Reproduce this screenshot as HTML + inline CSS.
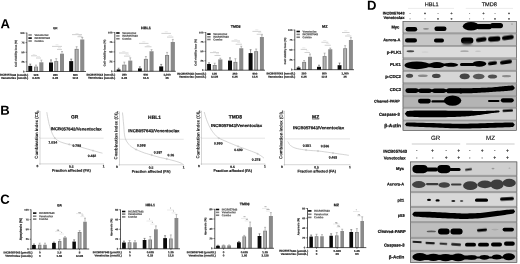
<!DOCTYPE html>
<html><head><meta charset="utf-8"><title>Figure</title>
<style>html,body{margin:0;padding:0;background:#fff;}svg{display:block;text-rendering:geometricPrecision;font-family:'Liberation Sans', sans-serif;}</style>
</head><body>
<svg width="520" height="264" viewBox="0 0 520 264">
<defs>
<filter id="b1" x="-20%" y="-50%" width="140%" height="200%"><feGaussianBlur stdDeviation="0.55"/></filter>
<filter id="b2" x="-20%" y="-50%" width="140%" height="200%"><feGaussianBlur stdDeviation="0.9"/></filter>
<filter id="b3" x="-20%" y="-50%" width="140%" height="200%"><feGaussianBlur stdDeviation="0.7"/></filter>
<filter id="bt" x="-5%" y="-5%" width="110%" height="110%"><feGaussianBlur stdDeviation="0.25"/></filter>
</defs>
<rect width="520" height="264" fill="#fff"/>
<text x="0.6" y="28.3" font-size="13.1" font-weight="bold" text-anchor="start" fill="#000" transform="rotate(0.05 0.6 28.3)">A</text>
<text x="0.25" y="114.8" font-size="13.1" font-weight="bold" text-anchor="start" fill="#000" transform="rotate(0.05 0.25 114.8)">B</text>
<text x="0.15" y="203.8" font-size="13.1" font-weight="bold" text-anchor="start" fill="#000" transform="rotate(0.05 0.15 203.8)">C</text>
<text x="367.05" y="9.85" font-size="13.1" font-weight="bold" text-anchor="start" fill="#000" transform="rotate(0.05 367.05 9.85)">D</text>
<g>
<line x1="30.25" y1="65.9" x2="30.25" y2="64.10000000000001" stroke="#2a2a2a" stroke-width="0.5"/>
<line x1="29.25" y1="64.10000000000001" x2="31.25" y2="64.10000000000001" stroke="#2a2a2a" stroke-width="0.45"/>
<rect x="28.3" y="65.9" width="3.900000000000002" height="5.599999999999994" fill="#0a0a0a"/>
<line x1="36.0" y1="66.6" x2="36.0" y2="65.1" stroke="#7a7a7a" stroke-width="0.5"/>
<line x1="35.0" y1="65.1" x2="37.0" y2="65.1" stroke="#7a7a7a" stroke-width="0.45"/>
<rect x="34" y="66.6" width="4" height="4.900000000000006" fill="#7e7e7e"/>
<rect x="35.0" y="67.3" width="2.0" height="4.2000000000000055" fill="#b2b2b2"/>
<line x1="41.349999999999994" y1="62.3" x2="41.349999999999994" y2="60.099999999999994" stroke="#7a7a7a" stroke-width="0.5"/>
<line x1="40.349999999999994" y1="60.099999999999994" x2="42.349999999999994" y2="60.099999999999994" stroke="#7a7a7a" stroke-width="0.45"/>
<rect x="39.3" y="62.3" width="4.100000000000001" height="9.200000000000003" fill="#8a8a8a"/>
<line x1="51.0" y1="62.5" x2="51.0" y2="59.9" stroke="#2a2a2a" stroke-width="0.5"/>
<line x1="50.0" y1="59.9" x2="52.0" y2="59.9" stroke="#2a2a2a" stroke-width="0.45"/>
<rect x="49" y="62.5" width="4" height="9.0" fill="#0a0a0a"/>
<line x1="56.225" y1="61.1" x2="56.225" y2="58.7" stroke="#7a7a7a" stroke-width="0.5"/>
<line x1="55.225" y1="58.7" x2="57.225" y2="58.7" stroke="#7a7a7a" stroke-width="0.45"/>
<rect x="54.25" y="61.1" width="3.950000000000003" height="10.399999999999999" fill="#7e7e7e"/>
<rect x="55.25" y="61.800000000000004" width="1.9500000000000028" height="9.7" fill="#b2b2b2"/>
<line x1="62.0" y1="53.7" x2="62.0" y2="51.5" stroke="#7a7a7a" stroke-width="0.5"/>
<line x1="61.0" y1="51.5" x2="63.0" y2="51.5" stroke="#7a7a7a" stroke-width="0.45"/>
<rect x="60" y="53.7" width="4" height="17.799999999999997" fill="#8a8a8a"/>
<line x1="71.2" y1="61.1" x2="71.2" y2="59.1" stroke="#2a2a2a" stroke-width="0.5"/>
<line x1="70.2" y1="59.1" x2="72.2" y2="59.1" stroke="#2a2a2a" stroke-width="0.45"/>
<rect x="69.2" y="61.1" width="4.0" height="10.399999999999999" fill="#0a0a0a"/>
<line x1="76.65" y1="48.9" x2="76.65" y2="46.699999999999996" stroke="#7a7a7a" stroke-width="0.5"/>
<line x1="75.65" y1="46.699999999999996" x2="77.65" y2="46.699999999999996" stroke="#7a7a7a" stroke-width="0.45"/>
<rect x="74.6" y="48.9" width="4.1000000000000085" height="22.6" fill="#7e7e7e"/>
<rect x="75.6" y="49.6" width="2.1000000000000085" height="21.900000000000002" fill="#b2b2b2"/>
<line x1="82.25" y1="39.5" x2="82.25" y2="37.5" stroke="#7a7a7a" stroke-width="0.5"/>
<line x1="81.25" y1="37.5" x2="83.25" y2="37.5" stroke="#7a7a7a" stroke-width="0.45"/>
<rect x="80.2" y="39.5" width="4.099999999999994" height="32.0" fill="#8a8a8a"/>
<line x1="26.9" y1="32.7" x2="26.9" y2="71.8" stroke="#111" stroke-width="0.7"/>
<line x1="26.599999999999998" y1="71.5" x2="86" y2="71.5" stroke="#111" stroke-width="0.7"/>
<line x1="25.5" y1="71.5" x2="26.9" y2="71.5" stroke="#111" stroke-width="0.5"/>
<text x="24.5" y="72.4" font-size="2.6" font-weight="bold" text-anchor="end" fill="#222" transform="rotate(0.05 24.5 72.4)" stroke="#222" stroke-width="0.156">0</text>
<line x1="25.5" y1="61.875" x2="26.9" y2="61.875" stroke="#111" stroke-width="0.5"/>
<text x="24.5" y="62.775" font-size="2.6" font-weight="bold" text-anchor="end" fill="#222" transform="rotate(0.05 24.5 62.775)" stroke="#222" stroke-width="0.156">25</text>
<line x1="25.5" y1="52.25" x2="26.9" y2="52.25" stroke="#111" stroke-width="0.5"/>
<text x="24.5" y="53.15" font-size="2.6" font-weight="bold" text-anchor="end" fill="#222" transform="rotate(0.05 24.5 53.15)" stroke="#222" stroke-width="0.156">50</text>
<line x1="25.5" y1="42.625" x2="26.9" y2="42.625" stroke="#111" stroke-width="0.5"/>
<text x="24.5" y="43.525" font-size="2.6" font-weight="bold" text-anchor="end" fill="#222" transform="rotate(0.05 24.5 43.525)" stroke="#222" stroke-width="0.156">75</text>
<line x1="25.5" y1="33.0" x2="26.9" y2="33.0" stroke="#111" stroke-width="0.5"/>
<text x="24.5" y="33.9" font-size="2.6" font-weight="bold" text-anchor="end" fill="#222" transform="rotate(0.05 24.5 33.9)" stroke="#222" stroke-width="0.156">100</text>
<text x="16.8" y="53.25" font-size="2.7" font-weight="bold" text-anchor="middle" fill="#444" transform="rotate(-89.95 16.8 53.25)" stroke="#444" stroke-width="0.162">Cell viability loss (%)</text>
<text x="55.2" y="29.3" font-size="3.0" font-weight="bold" text-anchor="middle" fill="#222" transform="rotate(0.05 55.2 29.3)" stroke="#222" stroke-width="0.180">GR</text>
<rect x="28.4" y="34.2" width="3.4" height="1.6" fill="#808080"/>
<text x="34.4" y="35.95" font-size="2.7" font-weight="bold" text-anchor="start" fill="#555" transform="rotate(0.05 34.4 35.95)" stroke="#555" stroke-width="0.162">Venetoclax</text>
<rect x="28.4" y="37.300000000000004" width="3.4" height="1.6" fill="#0a0a0a"/>
<text x="34.4" y="39.050000000000004" font-size="2.7" font-weight="bold" text-anchor="start" fill="#555" transform="rotate(0.05 34.4 39.050000000000004)" stroke="#555" stroke-width="0.162">INCB057643</text>
<rect x="28.4" y="40.2" width="3.4" height="1.6" fill="#7a7a7a"/>
<text x="34.4" y="41.95" font-size="2.7" font-weight="bold" text-anchor="start" fill="#555" transform="rotate(0.05 34.4 41.95)" stroke="#555" stroke-width="0.162">Combo</text>
<text x="28.3" y="75.9" font-size="2.9" font-weight="bold" text-anchor="end" fill="#222" transform="rotate(0.05 28.3 75.9)" stroke="#222" stroke-width="0.174">INCB057643 (nmol/L)</text>
<text x="28.3" y="79.0" font-size="2.9" font-weight="bold" text-anchor="end" fill="#222" transform="rotate(0.05 28.3 79.0)" stroke="#222" stroke-width="0.174">Venetoclax (nmol/L)</text>
<text x="35.9" y="75.9" font-size="2.9" font-weight="bold" text-anchor="middle" fill="#222" transform="rotate(0.05 35.9 75.9)" stroke="#222" stroke-width="0.174">125</text>
<text x="35.9" y="79.0" font-size="2.9" font-weight="bold" text-anchor="middle" fill="#222" transform="rotate(0.05 35.9 79.0)" stroke="#222" stroke-width="0.174">3.125</text>
<text x="55.3" y="75.9" font-size="2.9" font-weight="bold" text-anchor="middle" fill="#222" transform="rotate(0.05 55.3 75.9)" stroke="#222" stroke-width="0.174">250</text>
<text x="55.3" y="79.0" font-size="2.9" font-weight="bold" text-anchor="middle" fill="#222" transform="rotate(0.05 55.3 79.0)" stroke="#222" stroke-width="0.174">6.25</text>
<text x="75.3" y="75.9" font-size="2.9" font-weight="bold" text-anchor="middle" fill="#222" transform="rotate(0.05 75.3 75.9)" stroke="#222" stroke-width="0.174">500</text>
<text x="75.3" y="79.0" font-size="2.9" font-weight="bold" text-anchor="middle" fill="#222" transform="rotate(0.05 75.3 79.0)" stroke="#222" stroke-width="0.174">12.5</text>
<line x1="31" y1="55.8" x2="37" y2="55.8" stroke="#a2a2a2" stroke-width="0.5"/>
<text x="34.0" y="55.4" font-size="2.0" font-weight="normal" text-anchor="middle" fill="#9a9a9a" transform="rotate(0.05 34.0 55.4)">***</text>
<line x1="36" y1="58.0" x2="41" y2="58.0" stroke="#a2a2a2" stroke-width="0.5"/>
<text x="38.5" y="57.6" font-size="2.0" font-weight="normal" text-anchor="middle" fill="#9a9a9a" transform="rotate(0.05 38.5 57.6)">****</text>
<line x1="52" y1="46.4" x2="62" y2="46.4" stroke="#a2a2a2" stroke-width="0.5"/>
<text x="57.0" y="46.0" font-size="2.0" font-weight="normal" text-anchor="middle" fill="#9a9a9a" transform="rotate(0.05 57.0 46.0)">****</text>
<line x1="57" y1="49.4" x2="62" y2="49.4" stroke="#a2a2a2" stroke-width="0.5"/>
<text x="59.5" y="49.0" font-size="2.0" font-weight="normal" text-anchor="middle" fill="#9a9a9a" transform="rotate(0.05 59.5 49.0)">****</text>
<line x1="72" y1="34.6" x2="82" y2="34.6" stroke="#a2a2a2" stroke-width="0.5"/>
<text x="77.0" y="34.2" font-size="2.0" font-weight="normal" text-anchor="middle" fill="#9a9a9a" transform="rotate(0.05 77.0 34.2)">****</text>
<line x1="77.5" y1="36.7" x2="82.5" y2="36.7" stroke="#a2a2a2" stroke-width="0.5"/>
<text x="80.0" y="36.300000000000004" font-size="2.0" font-weight="normal" text-anchor="middle" fill="#9a9a9a" transform="rotate(0.05 80.0 36.300000000000004)">****</text>
<line x1="118.6" y1="69.4" x2="118.6" y2="68.2" stroke="#2a2a2a" stroke-width="0.5"/>
<line x1="117.6" y1="68.2" x2="119.6" y2="68.2" stroke="#2a2a2a" stroke-width="0.45"/>
<rect x="116.7" y="69.4" width="3.799999999999997" height="1.8999999999999915" fill="#0a0a0a"/>
<line x1="124.30000000000001" y1="64.7" x2="124.30000000000001" y2="62.1" stroke="#7a7a7a" stroke-width="0.5"/>
<line x1="123.30000000000001" y1="62.1" x2="125.30000000000001" y2="62.1" stroke="#7a7a7a" stroke-width="0.45"/>
<rect x="122.2" y="64.7" width="4.200000000000003" height="6.599999999999994" fill="#7e7e7e"/>
<rect x="123.2" y="65.4" width="2.200000000000003" height="5.899999999999994" fill="#b2b2b2"/>
<line x1="130.25" y1="60.6" x2="130.25" y2="57.800000000000004" stroke="#7a7a7a" stroke-width="0.5"/>
<line x1="129.25" y1="57.800000000000004" x2="131.25" y2="57.800000000000004" stroke="#7a7a7a" stroke-width="0.45"/>
<rect x="128.2" y="60.6" width="4.100000000000023" height="10.699999999999996" fill="#8a8a8a"/>
<line x1="139.9" y1="68.4" x2="139.9" y2="66.80000000000001" stroke="#2a2a2a" stroke-width="0.5"/>
<line x1="138.9" y1="66.80000000000001" x2="140.9" y2="66.80000000000001" stroke="#2a2a2a" stroke-width="0.45"/>
<rect x="138" y="68.4" width="3.8000000000000114" height="2.8999999999999915" fill="#0a0a0a"/>
<line x1="145.9" y1="58.9" x2="145.9" y2="56.5" stroke="#7a7a7a" stroke-width="0.5"/>
<line x1="144.9" y1="56.5" x2="146.9" y2="56.5" stroke="#7a7a7a" stroke-width="0.45"/>
<rect x="143.9" y="58.9" width="4.0" height="12.399999999999999" fill="#7e7e7e"/>
<rect x="144.9" y="59.6" width="2.0" height="11.7" fill="#b2b2b2"/>
<line x1="151.55" y1="51.25" x2="151.55" y2="49.65" stroke="#7a7a7a" stroke-width="0.5"/>
<line x1="150.55" y1="49.65" x2="152.55" y2="49.65" stroke="#7a7a7a" stroke-width="0.45"/>
<rect x="149.5" y="51.25" width="4.099999999999994" height="20.049999999999997" fill="#8a8a8a"/>
<line x1="161.2" y1="66.4" x2="161.2" y2="64.4" stroke="#2a2a2a" stroke-width="0.5"/>
<line x1="160.2" y1="64.4" x2="162.2" y2="64.4" stroke="#2a2a2a" stroke-width="0.45"/>
<rect x="159.2" y="66.4" width="4.0" height="4.8999999999999915" fill="#0a0a0a"/>
<line x1="167.1" y1="55" x2="167.1" y2="52.4" stroke="#7a7a7a" stroke-width="0.5"/>
<line x1="166.1" y1="52.4" x2="168.1" y2="52.4" stroke="#7a7a7a" stroke-width="0.45"/>
<rect x="165.1" y="55" width="4.0" height="16.299999999999997" fill="#7e7e7e"/>
<rect x="166.1" y="55.7" width="2.0" height="15.599999999999998" fill="#b2b2b2"/>
<line x1="172.8" y1="42" x2="172.8" y2="39.4" stroke="#7a7a7a" stroke-width="0.5"/>
<line x1="171.8" y1="39.4" x2="173.8" y2="39.4" stroke="#7a7a7a" stroke-width="0.45"/>
<rect x="170.7" y="42" width="4.200000000000017" height="29.299999999999997" fill="#8a8a8a"/>
<line x1="114.8" y1="32.2" x2="114.8" y2="71.6" stroke="#111" stroke-width="0.7"/>
<line x1="114.5" y1="71.3" x2="175.8" y2="71.3" stroke="#111" stroke-width="0.7"/>
<line x1="113.39999999999999" y1="71.3" x2="114.8" y2="71.3" stroke="#111" stroke-width="0.5"/>
<text x="112.39999999999999" y="72.2" font-size="2.6" font-weight="bold" text-anchor="end" fill="#222" transform="rotate(0.05 112.39999999999999 72.2)" stroke="#222" stroke-width="0.156">0</text>
<line x1="113.39999999999999" y1="61.599999999999994" x2="114.8" y2="61.599999999999994" stroke="#111" stroke-width="0.5"/>
<text x="112.39999999999999" y="62.49999999999999" font-size="2.6" font-weight="bold" text-anchor="end" fill="#222" transform="rotate(0.05 112.39999999999999 62.49999999999999)" stroke="#222" stroke-width="0.156">25</text>
<line x1="113.39999999999999" y1="51.9" x2="114.8" y2="51.9" stroke="#111" stroke-width="0.5"/>
<text x="112.39999999999999" y="52.8" font-size="2.6" font-weight="bold" text-anchor="end" fill="#222" transform="rotate(0.05 112.39999999999999 52.8)" stroke="#222" stroke-width="0.156">50</text>
<line x1="113.39999999999999" y1="42.2" x2="114.8" y2="42.2" stroke="#111" stroke-width="0.5"/>
<text x="112.39999999999999" y="43.1" font-size="2.6" font-weight="bold" text-anchor="end" fill="#222" transform="rotate(0.05 112.39999999999999 43.1)" stroke="#222" stroke-width="0.156">75</text>
<line x1="113.39999999999999" y1="32.5" x2="114.8" y2="32.5" stroke="#111" stroke-width="0.5"/>
<text x="112.39999999999999" y="33.4" font-size="2.6" font-weight="bold" text-anchor="end" fill="#222" transform="rotate(0.05 112.39999999999999 33.4)" stroke="#222" stroke-width="0.156">100</text>
<text x="105.4" y="52.9" font-size="2.7" font-weight="bold" text-anchor="middle" fill="#444" transform="rotate(-89.95 105.4 52.9)" stroke="#444" stroke-width="0.162">Cell viability loss (%)</text>
<text x="146.0" y="29.3" font-size="3.8" font-weight="bold" text-anchor="middle" fill="#222" transform="rotate(0.05 146.0 29.3)" stroke="#222" stroke-width="0.228">HBL1</text>
<rect x="116.2" y="32.2" width="3.4" height="1.6" fill="#0a0a0a"/>
<text x="122.2" y="33.95" font-size="2.7" font-weight="bold" text-anchor="start" fill="#555" transform="rotate(0.05 122.2 33.95)" stroke="#555" stroke-width="0.162">Venetoclax </text>
<rect x="116.2" y="35.1" width="3.4" height="1.6" fill="#808080"/>
<text x="122.2" y="36.85" font-size="2.7" font-weight="bold" text-anchor="start" fill="#555" transform="rotate(0.05 122.2 36.85)" stroke="#555" stroke-width="0.162">INCB057643</text>
<rect x="116.2" y="37.95" width="3.4" height="1.6" fill="#7a7a7a"/>
<text x="122.2" y="39.7" font-size="2.7" font-weight="bold" text-anchor="start" fill="#555" transform="rotate(0.05 122.2 39.7)" stroke="#555" stroke-width="0.162">Combo</text>
<text x="115.3" y="75.7" font-size="2.9" font-weight="bold" text-anchor="end" fill="#222" transform="rotate(0.05 115.3 75.7)" stroke="#222" stroke-width="0.174">INCB057643 (nmol/L)</text>
<text x="115.3" y="78.9" font-size="2.9" font-weight="bold" text-anchor="end" fill="#222" transform="rotate(0.05 115.3 78.9)" stroke="#222" stroke-width="0.174">Venetoclax (nmol/L)</text>
<text x="124.3" y="75.7" font-size="2.9" font-weight="bold" text-anchor="middle" fill="#222" transform="rotate(0.05 124.3 75.7)" stroke="#222" stroke-width="0.174">250</text>
<text x="124.3" y="78.9" font-size="2.9" font-weight="bold" text-anchor="middle" fill="#222" transform="rotate(0.05 124.3 78.9)" stroke="#222" stroke-width="0.174">6.25</text>
<text x="145.8" y="75.7" font-size="2.9" font-weight="bold" text-anchor="middle" fill="#222" transform="rotate(0.05 145.8 75.7)" stroke="#222" stroke-width="0.174">500</text>
<text x="145.8" y="78.9" font-size="2.9" font-weight="bold" text-anchor="middle" fill="#222" transform="rotate(0.05 145.8 78.9)" stroke="#222" stroke-width="0.174">12.5</text>
<text x="167" y="75.7" font-size="2.9" font-weight="bold" text-anchor="middle" fill="#222" transform="rotate(0.05 167 75.7)" stroke="#222" stroke-width="0.174">1,000</text>
<text x="167" y="78.9" font-size="2.9" font-weight="bold" text-anchor="middle" fill="#222" transform="rotate(0.05 167 78.9)" stroke="#222" stroke-width="0.174">25</text>
<line x1="119" y1="53.0" x2="128.5" y2="53.0" stroke="#a2a2a2" stroke-width="0.5"/>
<text x="123.75" y="52.6" font-size="2.0" font-weight="normal" text-anchor="middle" fill="#9a9a9a" transform="rotate(0.05 123.75 52.6)">****</text>
<line x1="124" y1="56.1" x2="130.3" y2="56.1" stroke="#a2a2a2" stroke-width="0.5"/>
<text x="127.15" y="55.7" font-size="2.0" font-weight="normal" text-anchor="middle" fill="#9a9a9a" transform="rotate(0.05 127.15 55.7)">****</text>
<line x1="139" y1="43.4" x2="148.5" y2="43.4" stroke="#a2a2a2" stroke-width="0.5"/>
<text x="143.75" y="43.0" font-size="2.0" font-weight="normal" text-anchor="middle" fill="#9a9a9a" transform="rotate(0.05 143.75 43.0)">****</text>
<line x1="144.7" y1="46.75" x2="151.5" y2="46.75" stroke="#a2a2a2" stroke-width="0.5"/>
<text x="148.1" y="46.35" font-size="2.0" font-weight="normal" text-anchor="middle" fill="#9a9a9a" transform="rotate(0.05 148.1 46.35)">****</text>
<line x1="161.4" y1="33.4" x2="171" y2="33.4" stroke="#a2a2a2" stroke-width="0.5"/>
<text x="166.2" y="33.0" font-size="2.0" font-weight="normal" text-anchor="middle" fill="#9a9a9a" transform="rotate(0.05 166.2 33.0)">****</text>
<line x1="167" y1="37.1" x2="173.3" y2="37.1" stroke="#a2a2a2" stroke-width="0.5"/>
<text x="170.15" y="36.7" font-size="2.0" font-weight="normal" text-anchor="middle" fill="#9a9a9a" transform="rotate(0.05 170.15 36.7)">****</text>
<line x1="209.05" y1="64" x2="209.05" y2="62.8" stroke="#2a2a2a" stroke-width="0.5"/>
<line x1="208.05" y1="62.8" x2="210.05" y2="62.8" stroke="#2a2a2a" stroke-width="0.45"/>
<rect x="207.1" y="64" width="3.9000000000000057" height="6.200000000000003" fill="#0a0a0a"/>
<line x1="214.7" y1="65" x2="214.7" y2="63.2" stroke="#7a7a7a" stroke-width="0.5"/>
<line x1="213.7" y1="63.2" x2="215.7" y2="63.2" stroke="#7a7a7a" stroke-width="0.45"/>
<rect x="212.7" y="65" width="4.0" height="5.200000000000003" fill="#7e7e7e"/>
<rect x="213.7" y="65.7" width="2.0" height="4.500000000000003" fill="#b2b2b2"/>
<line x1="220.3" y1="59.4" x2="220.3" y2="58.199999999999996" stroke="#7a7a7a" stroke-width="0.5"/>
<line x1="219.3" y1="58.199999999999996" x2="221.3" y2="58.199999999999996" stroke="#7a7a7a" stroke-width="0.45"/>
<rect x="218.2" y="59.4" width="4.200000000000017" height="10.800000000000004" fill="#8a8a8a"/>
<line x1="230.0" y1="60.6" x2="230.0" y2="57.800000000000004" stroke="#2a2a2a" stroke-width="0.5"/>
<line x1="229.0" y1="57.800000000000004" x2="231.0" y2="57.800000000000004" stroke="#2a2a2a" stroke-width="0.45"/>
<rect x="228" y="60.6" width="4" height="9.600000000000001" fill="#0a0a0a"/>
<line x1="235.4" y1="61.9" x2="235.4" y2="58.699999999999996" stroke="#7a7a7a" stroke-width="0.5"/>
<line x1="234.4" y1="58.699999999999996" x2="236.4" y2="58.699999999999996" stroke="#7a7a7a" stroke-width="0.45"/>
<rect x="233.4" y="61.9" width="4.0" height="8.300000000000004" fill="#7e7e7e"/>
<rect x="234.4" y="62.6" width="2.0" height="7.600000000000004" fill="#b2b2b2"/>
<line x1="241.25" y1="48.25" x2="241.25" y2="46.25" stroke="#7a7a7a" stroke-width="0.5"/>
<line x1="240.25" y1="46.25" x2="242.25" y2="46.25" stroke="#7a7a7a" stroke-width="0.45"/>
<rect x="239.2" y="48.25" width="4.100000000000023" height="21.950000000000003" fill="#8a8a8a"/>
<line x1="250.6" y1="53.1" x2="250.6" y2="49.7" stroke="#2a2a2a" stroke-width="0.5"/>
<line x1="249.6" y1="49.7" x2="251.6" y2="49.7" stroke="#2a2a2a" stroke-width="0.45"/>
<rect x="248.6" y="53.1" width="4.0" height="17.1" fill="#0a0a0a"/>
<line x1="256.15" y1="51.2" x2="256.15" y2="49.0" stroke="#7a7a7a" stroke-width="0.5"/>
<line x1="255.14999999999998" y1="49.0" x2="257.15" y2="49.0" stroke="#7a7a7a" stroke-width="0.45"/>
<rect x="254.2" y="51.2" width="3.900000000000034" height="19.0" fill="#7e7e7e"/>
<rect x="255.2" y="51.900000000000006" width="1.900000000000034" height="18.3" fill="#b2b2b2"/>
<line x1="261.9" y1="37" x2="261.9" y2="34.8" stroke="#7a7a7a" stroke-width="0.5"/>
<line x1="260.9" y1="34.8" x2="262.9" y2="34.8" stroke="#7a7a7a" stroke-width="0.45"/>
<rect x="259.9" y="37" width="4.0" height="33.2" fill="#8a8a8a"/>
<line x1="205.8" y1="32.2" x2="205.8" y2="70.5" stroke="#111" stroke-width="0.7"/>
<line x1="205.5" y1="70.2" x2="265" y2="70.2" stroke="#111" stroke-width="0.7"/>
<line x1="204.4" y1="70.2" x2="205.8" y2="70.2" stroke="#111" stroke-width="0.5"/>
<text x="203.4" y="71.10000000000001" font-size="2.6" font-weight="bold" text-anchor="end" fill="#222" transform="rotate(0.05 203.4 71.10000000000001)" stroke="#222" stroke-width="0.156">0</text>
<line x1="204.4" y1="60.775000000000006" x2="205.8" y2="60.775000000000006" stroke="#111" stroke-width="0.5"/>
<text x="203.4" y="61.675000000000004" font-size="2.6" font-weight="bold" text-anchor="end" fill="#222" transform="rotate(0.05 203.4 61.675000000000004)" stroke="#222" stroke-width="0.156">25</text>
<line x1="204.4" y1="51.35" x2="205.8" y2="51.35" stroke="#111" stroke-width="0.5"/>
<text x="203.4" y="52.25" font-size="2.6" font-weight="bold" text-anchor="end" fill="#222" transform="rotate(0.05 203.4 52.25)" stroke="#222" stroke-width="0.156">50</text>
<line x1="204.4" y1="41.925" x2="205.8" y2="41.925" stroke="#111" stroke-width="0.5"/>
<text x="203.4" y="42.824999999999996" font-size="2.6" font-weight="bold" text-anchor="end" fill="#222" transform="rotate(0.05 203.4 42.824999999999996)" stroke="#222" stroke-width="0.156">75</text>
<line x1="204.4" y1="32.5" x2="205.8" y2="32.5" stroke="#111" stroke-width="0.5"/>
<text x="203.4" y="33.4" font-size="2.6" font-weight="bold" text-anchor="end" fill="#222" transform="rotate(0.05 203.4 33.4)" stroke="#222" stroke-width="0.156">100</text>
<text x="196.4" y="52.35" font-size="2.7" font-weight="bold" text-anchor="middle" fill="#444" transform="rotate(-89.95 196.4 52.35)" stroke="#444" stroke-width="0.162">Cell viability loss (%)</text>
<text x="235.6" y="27.7" font-size="3.6" font-weight="bold" text-anchor="middle" fill="#222" transform="rotate(0.05 235.6 27.7)" stroke="#222" stroke-width="0.216">TMD8</text>
<rect x="207.2" y="33.300000000000004" width="3.4" height="1.6" fill="#0a0a0a"/>
<text x="213.2" y="35.050000000000004" font-size="2.7" font-weight="bold" text-anchor="start" fill="#555" transform="rotate(0.05 213.2 35.050000000000004)" stroke="#555" stroke-width="0.162">Venetoclax </text>
<rect x="207.2" y="36.0" width="3.4" height="1.6" fill="#808080"/>
<text x="213.2" y="37.75" font-size="2.7" font-weight="bold" text-anchor="start" fill="#555" transform="rotate(0.05 213.2 37.75)" stroke="#555" stroke-width="0.162">INCB057643</text>
<rect x="207.2" y="38.7" width="3.4" height="1.6" fill="#7a7a7a"/>
<text x="213.2" y="40.45" font-size="2.7" font-weight="bold" text-anchor="start" fill="#555" transform="rotate(0.05 213.2 40.45)" stroke="#555" stroke-width="0.162">Combo</text>
<text x="206.2" y="74.7" font-size="2.9" font-weight="bold" text-anchor="end" fill="#222" transform="rotate(0.05 206.2 74.7)" stroke="#222" stroke-width="0.174">INCB057643 (nmol/L)</text>
<text x="206.2" y="77.8" font-size="2.9" font-weight="bold" text-anchor="end" fill="#222" transform="rotate(0.05 206.2 77.8)" stroke="#222" stroke-width="0.174">Venetoclax (nmol/L)</text>
<text x="214.5" y="74.7" font-size="2.9" font-weight="bold" text-anchor="middle" fill="#222" transform="rotate(0.05 214.5 74.7)" stroke="#222" stroke-width="0.174">125</text>
<text x="214.5" y="77.8" font-size="2.9" font-weight="bold" text-anchor="middle" fill="#222" transform="rotate(0.05 214.5 77.8)" stroke="#222" stroke-width="0.174">3.125</text>
<text x="234.9" y="74.7" font-size="2.9" font-weight="bold" text-anchor="middle" fill="#222" transform="rotate(0.05 234.9 74.7)" stroke="#222" stroke-width="0.174">250</text>
<text x="234.9" y="77.8" font-size="2.9" font-weight="bold" text-anchor="middle" fill="#222" transform="rotate(0.05 234.9 77.8)" stroke="#222" stroke-width="0.174">6.25</text>
<text x="254.9" y="74.7" font-size="2.9" font-weight="bold" text-anchor="middle" fill="#222" transform="rotate(0.05 254.9 74.7)" stroke="#222" stroke-width="0.174">500</text>
<text x="254.9" y="77.8" font-size="2.9" font-weight="bold" text-anchor="middle" fill="#222" transform="rotate(0.05 254.9 77.8)" stroke="#222" stroke-width="0.174">12.5</text>
<line x1="210" y1="52.6" x2="219" y2="52.6" stroke="#a2a2a2" stroke-width="0.5"/>
<text x="214.5" y="52.2" font-size="2.0" font-weight="normal" text-anchor="middle" fill="#9a9a9a" transform="rotate(0.05 214.5 52.2)">****</text>
<line x1="214.5" y1="55.5" x2="220.5" y2="55.5" stroke="#a2a2a2" stroke-width="0.5"/>
<text x="217.5" y="55.1" font-size="2.0" font-weight="normal" text-anchor="middle" fill="#9a9a9a" transform="rotate(0.05 217.5 55.1)">****</text>
<line x1="231.5" y1="41.0" x2="240" y2="41.0" stroke="#a2a2a2" stroke-width="0.5"/>
<text x="235.75" y="40.6" font-size="2.0" font-weight="normal" text-anchor="middle" fill="#9a9a9a" transform="rotate(0.05 235.75 40.6)">****</text>
<line x1="235.7" y1="44.25" x2="242" y2="44.25" stroke="#a2a2a2" stroke-width="0.5"/>
<text x="238.85" y="43.85" font-size="2.0" font-weight="normal" text-anchor="middle" fill="#9a9a9a" transform="rotate(0.05 238.85 43.85)">****</text>
<line x1="252.4" y1="31.4" x2="261.1" y2="31.4" stroke="#a2a2a2" stroke-width="0.5"/>
<text x="256.75" y="31.0" font-size="2.0" font-weight="normal" text-anchor="middle" fill="#9a9a9a" transform="rotate(0.05 256.75 31.0)">****</text>
<line x1="256.7" y1="34.25" x2="262.8" y2="34.25" stroke="#a2a2a2" stroke-width="0.5"/>
<text x="259.75" y="33.85" font-size="2.0" font-weight="normal" text-anchor="middle" fill="#9a9a9a" transform="rotate(0.05 259.75 33.85)">****</text>
<line x1="298.6" y1="67.5" x2="298.6" y2="66.7" stroke="#2a2a2a" stroke-width="0.5"/>
<line x1="297.6" y1="66.7" x2="299.6" y2="66.7" stroke="#2a2a2a" stroke-width="0.45"/>
<rect x="296.7" y="67.5" width="3.8000000000000114" height="2.200000000000003" fill="#0a0a0a"/>
<line x1="304.15" y1="61.9" x2="304.15" y2="60.5" stroke="#7a7a7a" stroke-width="0.5"/>
<line x1="303.15" y1="60.5" x2="305.15" y2="60.5" stroke="#7a7a7a" stroke-width="0.45"/>
<rect x="302.2" y="61.9" width="3.900000000000034" height="7.800000000000004" fill="#7e7e7e"/>
<rect x="303.2" y="62.6" width="1.900000000000034" height="7.100000000000004" fill="#b2b2b2"/>
<line x1="310.0" y1="56.8" x2="310.0" y2="54.0" stroke="#7a7a7a" stroke-width="0.5"/>
<line x1="309.0" y1="54.0" x2="311.0" y2="54.0" stroke="#7a7a7a" stroke-width="0.45"/>
<rect x="308" y="56.8" width="4" height="12.900000000000006" fill="#8a8a8a"/>
<line x1="319.0" y1="66.8" x2="319.0" y2="65.2" stroke="#2a2a2a" stroke-width="0.5"/>
<line x1="318.0" y1="65.2" x2="320.0" y2="65.2" stroke="#2a2a2a" stroke-width="0.45"/>
<rect x="317" y="66.8" width="4" height="2.9000000000000057" fill="#0a0a0a"/>
<line x1="324.6" y1="56.1" x2="324.6" y2="53.1" stroke="#7a7a7a" stroke-width="0.5"/>
<line x1="323.6" y1="53.1" x2="325.6" y2="53.1" stroke="#7a7a7a" stroke-width="0.45"/>
<rect x="322.6" y="56.1" width="4.0" height="13.600000000000001" fill="#7e7e7e"/>
<rect x="323.6" y="56.800000000000004" width="2.0" height="12.900000000000002" fill="#b2b2b2"/>
<line x1="330.25" y1="49.25" x2="330.25" y2="48.05" stroke="#7a7a7a" stroke-width="0.5"/>
<line x1="329.25" y1="48.05" x2="331.25" y2="48.05" stroke="#7a7a7a" stroke-width="0.45"/>
<rect x="328.2" y="49.25" width="4.100000000000023" height="20.450000000000003" fill="#8a8a8a"/>
<line x1="339.55" y1="65.2" x2="339.55" y2="63.0" stroke="#2a2a2a" stroke-width="0.5"/>
<line x1="338.55" y1="63.0" x2="340.55" y2="63.0" stroke="#2a2a2a" stroke-width="0.45"/>
<rect x="337.6" y="65.2" width="3.8999999999999773" height="4.5" fill="#0a0a0a"/>
<line x1="345.15" y1="48.25" x2="345.15" y2="45.65" stroke="#7a7a7a" stroke-width="0.5"/>
<line x1="344.15" y1="45.65" x2="346.15" y2="45.65" stroke="#7a7a7a" stroke-width="0.45"/>
<rect x="343.2" y="48.25" width="3.900000000000034" height="21.450000000000003" fill="#7e7e7e"/>
<rect x="344.2" y="48.95" width="1.900000000000034" height="20.750000000000004" fill="#b2b2b2"/>
<line x1="350.9" y1="40" x2="350.9" y2="37.6" stroke="#7a7a7a" stroke-width="0.5"/>
<line x1="349.9" y1="37.6" x2="351.9" y2="37.6" stroke="#7a7a7a" stroke-width="0.45"/>
<rect x="348.9" y="40" width="4.0" height="29.700000000000003" fill="#8a8a8a"/>
<line x1="294.8" y1="29.7" x2="294.8" y2="70.0" stroke="#111" stroke-width="0.7"/>
<line x1="294.5" y1="69.7" x2="354" y2="69.7" stroke="#111" stroke-width="0.7"/>
<line x1="293.40000000000003" y1="69.7" x2="294.8" y2="69.7" stroke="#111" stroke-width="0.5"/>
<text x="292.40000000000003" y="70.60000000000001" font-size="2.6" font-weight="bold" text-anchor="end" fill="#222" transform="rotate(0.05 292.40000000000003 70.60000000000001)" stroke="#222" stroke-width="0.156">0</text>
<line x1="293.40000000000003" y1="59.775000000000006" x2="294.8" y2="59.775000000000006" stroke="#111" stroke-width="0.5"/>
<text x="292.40000000000003" y="60.675000000000004" font-size="2.6" font-weight="bold" text-anchor="end" fill="#222" transform="rotate(0.05 292.40000000000003 60.675000000000004)" stroke="#222" stroke-width="0.156">25</text>
<line x1="293.40000000000003" y1="49.85" x2="294.8" y2="49.85" stroke="#111" stroke-width="0.5"/>
<text x="292.40000000000003" y="50.75" font-size="2.6" font-weight="bold" text-anchor="end" fill="#222" transform="rotate(0.05 292.40000000000003 50.75)" stroke="#222" stroke-width="0.156">50</text>
<line x1="293.40000000000003" y1="39.925" x2="294.8" y2="39.925" stroke="#111" stroke-width="0.5"/>
<text x="292.40000000000003" y="40.824999999999996" font-size="2.6" font-weight="bold" text-anchor="end" fill="#222" transform="rotate(0.05 292.40000000000003 40.824999999999996)" stroke="#222" stroke-width="0.156">75</text>
<line x1="293.40000000000003" y1="30.0" x2="294.8" y2="30.0" stroke="#111" stroke-width="0.5"/>
<text x="292.40000000000003" y="30.9" font-size="2.6" font-weight="bold" text-anchor="end" fill="#222" transform="rotate(0.05 292.40000000000003 30.9)" stroke="#222" stroke-width="0.156">100</text>
<text x="286.0" y="50.85" font-size="2.7" font-weight="bold" text-anchor="middle" fill="#444" transform="rotate(-89.95 286.0 50.85)" stroke="#444" stroke-width="0.162">Cell viability loss (%)</text>
<text x="324.8" y="27.8" font-size="3.8" font-weight="bold" text-anchor="middle" fill="#222" transform="rotate(0.05 324.8 27.8)" stroke="#222" stroke-width="0.228">MZ</text>
<rect x="296.5" y="30.7" width="3.4" height="1.6" fill="#0a0a0a"/>
<text x="302.5" y="32.45" font-size="2.7" font-weight="bold" text-anchor="start" fill="#555" transform="rotate(0.05 302.5 32.45)" stroke="#555" stroke-width="0.162">Venetoclax </text>
<rect x="296.5" y="33.6" width="3.4" height="1.6" fill="#808080"/>
<text x="302.5" y="35.35" font-size="2.7" font-weight="bold" text-anchor="start" fill="#555" transform="rotate(0.05 302.5 35.35)" stroke="#555" stroke-width="0.162">INCB057643</text>
<rect x="296.5" y="36.45" width="3.4" height="1.6" fill="#7a7a7a"/>
<text x="302.5" y="38.2" font-size="2.7" font-weight="bold" text-anchor="start" fill="#555" transform="rotate(0.05 302.5 38.2)" stroke="#555" stroke-width="0.162">Combo</text>
<text x="295.3" y="74.6" font-size="2.9" font-weight="bold" text-anchor="end" fill="#222" transform="rotate(0.05 295.3 74.6)" stroke="#222" stroke-width="0.174">INCB057643 (nmol/L)</text>
<text x="295.3" y="77.7" font-size="2.9" font-weight="bold" text-anchor="end" fill="#222" transform="rotate(0.05 295.3 77.7)" stroke="#222" stroke-width="0.174">Venetoclax (nmol/L)</text>
<text x="303.9" y="74.6" font-size="2.9" font-weight="bold" text-anchor="middle" fill="#222" transform="rotate(0.05 303.9 74.6)" stroke="#222" stroke-width="0.174">250</text>
<text x="303.9" y="77.7" font-size="2.9" font-weight="bold" text-anchor="middle" fill="#222" transform="rotate(0.05 303.9 77.7)" stroke="#222" stroke-width="0.174">6.25</text>
<text x="324.3" y="74.6" font-size="2.9" font-weight="bold" text-anchor="middle" fill="#222" transform="rotate(0.05 324.3 74.6)" stroke="#222" stroke-width="0.174">500</text>
<text x="324.3" y="77.7" font-size="2.9" font-weight="bold" text-anchor="middle" fill="#222" transform="rotate(0.05 324.3 77.7)" stroke="#222" stroke-width="0.174">12.5</text>
<text x="345.1" y="74.6" font-size="2.9" font-weight="bold" text-anchor="middle" fill="#222" transform="rotate(0.05 345.1 74.6)" stroke="#222" stroke-width="0.174">1,000</text>
<text x="345.1" y="77.7" font-size="2.9" font-weight="bold" text-anchor="middle" fill="#222" transform="rotate(0.05 345.1 77.7)" stroke="#222" stroke-width="0.174">25</text>
<line x1="300.7" y1="49.4" x2="307" y2="49.4" stroke="#a2a2a2" stroke-width="0.5"/>
<text x="303.85" y="49.0" font-size="2.0" font-weight="normal" text-anchor="middle" fill="#9a9a9a" transform="rotate(0.05 303.85 49.0)">****</text>
<line x1="304.5" y1="52.5" x2="310" y2="52.5" stroke="#a2a2a2" stroke-width="0.5"/>
<text x="307.25" y="52.1" font-size="2.0" font-weight="normal" text-anchor="middle" fill="#9a9a9a" transform="rotate(0.05 307.25 52.1)">***</text>
<line x1="321.4" y1="42.25" x2="328.3" y2="42.25" stroke="#a2a2a2" stroke-width="0.5"/>
<text x="324.85" y="41.85" font-size="2.0" font-weight="normal" text-anchor="middle" fill="#9a9a9a" transform="rotate(0.05 324.85 41.85)">****</text>
<line x1="324.7" y1="45.25" x2="330.8" y2="45.25" stroke="#a2a2a2" stroke-width="0.5"/>
<text x="327.75" y="44.85" font-size="2.0" font-weight="normal" text-anchor="middle" fill="#9a9a9a" transform="rotate(0.05 327.75 44.85)">****</text>
<line x1="342" y1="32.5" x2="349.5" y2="32.5" stroke="#a2a2a2" stroke-width="0.5"/>
<text x="345.75" y="32.1" font-size="2.0" font-weight="normal" text-anchor="middle" fill="#9a9a9a" transform="rotate(0.05 345.75 32.1)">****</text>
<line x1="345.1" y1="36" x2="351.4" y2="36" stroke="#a2a2a2" stroke-width="0.5"/>
<text x="348.25" y="35.6" font-size="2.0" font-weight="normal" text-anchor="middle" fill="#9a9a9a" transform="rotate(0.05 348.25 35.6)">****</text>
<line x1="33.95" y1="245" x2="33.95" y2="244.0" stroke="#2a2a2a" stroke-width="0.5"/>
<line x1="32.95" y1="244.0" x2="34.95" y2="244.0" stroke="#2a2a2a" stroke-width="0.45"/>
<rect x="32.1" y="245" width="3.6999999999999957" height="4.0" fill="#0a0a0a"/>
<line x1="39.7" y1="244.75" x2="39.7" y2="243.15" stroke="#7a7a7a" stroke-width="0.5"/>
<line x1="38.7" y1="243.15" x2="40.7" y2="243.15" stroke="#7a7a7a" stroke-width="0.45"/>
<rect x="38" y="244.75" width="3.3999999999999986" height="4.25" fill="#7e7e7e"/>
<rect x="39.0" y="245.45" width="1.3999999999999986" height="3.55" fill="#b2b2b2"/>
<line x1="45.0" y1="244.75" x2="45.0" y2="243.15" stroke="#7a7a7a" stroke-width="0.5"/>
<line x1="44.0" y1="243.15" x2="46.0" y2="243.15" stroke="#7a7a7a" stroke-width="0.45"/>
<rect x="43.2" y="244.75" width="3.5999999999999943" height="4.25" fill="#8a8a8a"/>
<line x1="53.95" y1="242.9" x2="53.95" y2="242.1" stroke="#2a2a2a" stroke-width="0.5"/>
<line x1="52.95" y1="242.1" x2="54.95" y2="242.1" stroke="#2a2a2a" stroke-width="0.45"/>
<rect x="52.1" y="242.9" width="3.6999999999999957" height="6.099999999999994" fill="#0a0a0a"/>
<line x1="59.7" y1="241" x2="59.7" y2="239.6" stroke="#7a7a7a" stroke-width="0.5"/>
<line x1="58.7" y1="239.6" x2="60.7" y2="239.6" stroke="#7a7a7a" stroke-width="0.45"/>
<rect x="58" y="241" width="3.3999999999999986" height="8.0" fill="#7e7e7e"/>
<rect x="59.0" y="241.7" width="1.3999999999999986" height="7.3" fill="#b2b2b2"/>
<line x1="65.0" y1="237.5" x2="65.0" y2="236.7" stroke="#7a7a7a" stroke-width="0.5"/>
<line x1="64.0" y1="236.7" x2="66.0" y2="236.7" stroke="#7a7a7a" stroke-width="0.45"/>
<rect x="63.2" y="237.5" width="3.5999999999999943" height="11.5" fill="#8a8a8a"/>
<line x1="74.15" y1="241.6" x2="74.15" y2="239.79999999999998" stroke="#2a2a2a" stroke-width="0.5"/>
<line x1="73.15" y1="239.79999999999998" x2="75.15" y2="239.79999999999998" stroke="#2a2a2a" stroke-width="0.45"/>
<rect x="72.4" y="241.6" width="3.5" height="7.400000000000006" fill="#0a0a0a"/>
<line x1="79.625" y1="232" x2="79.625" y2="230.6" stroke="#7a7a7a" stroke-width="0.5"/>
<line x1="78.625" y1="230.6" x2="80.625" y2="230.6" stroke="#7a7a7a" stroke-width="0.45"/>
<rect x="77.75" y="232" width="3.75" height="17.0" fill="#7e7e7e"/>
<rect x="78.75" y="232.7" width="1.75" height="16.3" fill="#b2b2b2"/>
<line x1="85.0" y1="221.75" x2="85.0" y2="218.15" stroke="#7a7a7a" stroke-width="0.5"/>
<line x1="84.0" y1="218.15" x2="86.0" y2="218.15" stroke="#7a7a7a" stroke-width="0.45"/>
<rect x="83.2" y="221.75" width="3.5999999999999943" height="27.25" fill="#8a8a8a"/>
<line x1="31.0" y1="209.45" x2="31.0" y2="249.3" stroke="#111" stroke-width="0.7"/>
<line x1="30.7" y1="249.0" x2="89.2" y2="249.0" stroke="#111" stroke-width="0.7"/>
<line x1="29.6" y1="249.0" x2="31.0" y2="249.0" stroke="#111" stroke-width="0.5"/>
<text x="28.6" y="249.9" font-size="2.6" font-weight="bold" text-anchor="end" fill="#222" transform="rotate(0.05 28.6 249.9)" stroke="#222" stroke-width="0.156">0</text>
<line x1="29.6" y1="239.1875" x2="31.0" y2="239.1875" stroke="#111" stroke-width="0.5"/>
<text x="28.6" y="240.0875" font-size="2.6" font-weight="bold" text-anchor="end" fill="#222" transform="rotate(0.05 28.6 240.0875)" stroke="#222" stroke-width="0.156">25</text>
<line x1="29.6" y1="229.375" x2="31.0" y2="229.375" stroke="#111" stroke-width="0.5"/>
<text x="28.6" y="230.275" font-size="2.6" font-weight="bold" text-anchor="end" fill="#222" transform="rotate(0.05 28.6 230.275)" stroke="#222" stroke-width="0.156">50</text>
<line x1="29.6" y1="219.5625" x2="31.0" y2="219.5625" stroke="#111" stroke-width="0.5"/>
<text x="28.6" y="220.4625" font-size="2.6" font-weight="bold" text-anchor="end" fill="#222" transform="rotate(0.05 28.6 220.4625)" stroke="#222" stroke-width="0.156">75</text>
<line x1="29.6" y1="209.75" x2="31.0" y2="209.75" stroke="#111" stroke-width="0.5"/>
<text x="28.6" y="210.65" font-size="2.6" font-weight="bold" text-anchor="end" fill="#222" transform="rotate(0.05 28.6 210.65)" stroke="#222" stroke-width="0.156">100</text>
<text x="21.8" y="229.1" font-size="3.35" font-weight="bold" text-anchor="middle" fill="#2a2a2a" transform="rotate(-89.95 21.8 229.1)" stroke="#2a2a2a" stroke-width="0.201">Apoptosis (%)</text>
<text x="59.4" y="206.6" font-size="3.2" font-weight="bold" text-anchor="middle" fill="#222" transform="rotate(0.05 59.4 206.6)" stroke="#222" stroke-width="0.192">GR</text>
<rect x="33.0" y="212.29999999999998" width="3.4" height="1.6" fill="#0a0a0a"/>
<text x="39.0" y="214.04999999999998" font-size="2.7" font-weight="bold" text-anchor="start" fill="#555" transform="rotate(0.05 39.0 214.04999999999998)" stroke="#555" stroke-width="0.162">INCB057643</text>
<rect x="33.0" y="215.39999999999998" width="3.4" height="1.6" fill="#808080"/>
<text x="39.0" y="217.14999999999998" font-size="2.7" font-weight="bold" text-anchor="start" fill="#555" transform="rotate(0.05 39.0 217.14999999999998)" stroke="#555" stroke-width="0.162">Venetoclax</text>
<rect x="33.0" y="218.29999999999998" width="3.4" height="1.6" fill="#7a7a7a"/>
<text x="39.0" y="220.04999999999998" font-size="2.7" font-weight="bold" text-anchor="start" fill="#555" transform="rotate(0.05 39.0 220.04999999999998)" stroke="#555" stroke-width="0.162">Combo</text>
<text x="32.5" y="253.5" font-size="2.9" font-weight="bold" text-anchor="end" fill="#222" transform="rotate(0.05 32.5 253.5)" stroke="#222" stroke-width="0.174">INCB057643 (μmol/L)</text>
<text x="32.5" y="256.9" font-size="2.9" font-weight="bold" text-anchor="end" fill="#222" transform="rotate(0.05 32.5 256.9)" stroke="#222" stroke-width="0.174">Venetoclax (nmol/L)</text>
<line x1="39.9" y1="249.0" x2="39.9" y2="250.3" stroke="#111" stroke-width="0.5"/>
<text x="39.9" y="253.5" font-size="2.9" font-weight="bold" text-anchor="middle" fill="#222" transform="rotate(0.05 39.9 253.5)" stroke="#222" stroke-width="0.174">0</text>
<text x="39.9" y="256.9" font-size="2.9" font-weight="bold" text-anchor="middle" fill="#222" transform="rotate(0.05 39.9 256.9)" stroke="#222" stroke-width="0.174">0</text>
<line x1="59.3" y1="249.0" x2="59.3" y2="250.3" stroke="#111" stroke-width="0.5"/>
<text x="59.3" y="253.5" font-size="2.9" font-weight="bold" text-anchor="middle" fill="#222" transform="rotate(0.05 59.3 253.5)" stroke="#222" stroke-width="0.174">2.5</text>
<text x="59.3" y="256.9" font-size="2.9" font-weight="bold" text-anchor="middle" fill="#222" transform="rotate(0.05 59.3 256.9)" stroke="#222" stroke-width="0.174">1.56</text>
<line x1="79.5" y1="249.0" x2="79.5" y2="250.3" stroke="#111" stroke-width="0.5"/>
<text x="79.5" y="253.5" font-size="2.9" font-weight="bold" text-anchor="middle" fill="#222" transform="rotate(0.05 79.5 253.5)" stroke="#222" stroke-width="0.174">5</text>
<text x="79.5" y="256.9" font-size="2.9" font-weight="bold" text-anchor="middle" fill="#222" transform="rotate(0.05 79.5 256.9)" stroke="#222" stroke-width="0.174">3.125</text>
<line x1="55" y1="231.4" x2="61" y2="231.4" stroke="#d4d4d4" stroke-width="0.5"/>
<text x="58.0" y="231.0" font-size="2.4" font-weight="normal" text-anchor="middle" fill="#4a4a4a" transform="rotate(0.05 58.0 231.0)">ns</text>
<line x1="59.5" y1="234.0" x2="64" y2="234.0" stroke="#d4d4d4" stroke-width="0.5"/>
<text x="61.75" y="233.6" font-size="2.4" font-weight="normal" text-anchor="middle" fill="#4a4a4a" transform="rotate(0.05 61.75 233.6)">*</text>
<line x1="76" y1="213.6" x2="83" y2="213.6" stroke="#d4d4d4" stroke-width="0.5"/>
<text x="79.5" y="213.2" font-size="2.4" font-weight="normal" text-anchor="middle" fill="#4a4a4a" transform="rotate(0.05 79.5 213.2)">ns</text>
<line x1="80.4" y1="216.6" x2="84.4" y2="216.6" stroke="#d4d4d4" stroke-width="0.5"/>
<text x="82.4" y="216.2" font-size="2.4" font-weight="normal" text-anchor="middle" fill="#4a4a4a" transform="rotate(0.05 82.4 216.2)">**</text>
<line x1="123.94999999999999" y1="242.5" x2="123.94999999999999" y2="241.1" stroke="#2a2a2a" stroke-width="0.5"/>
<line x1="122.94999999999999" y1="241.1" x2="124.94999999999999" y2="241.1" stroke="#2a2a2a" stroke-width="0.45"/>
<rect x="122.1" y="242.5" width="3.700000000000003" height="6.300000000000011" fill="#0a0a0a"/>
<line x1="129.55" y1="242.3" x2="129.55" y2="240.5" stroke="#7a7a7a" stroke-width="0.5"/>
<line x1="128.55" y1="240.5" x2="130.55" y2="240.5" stroke="#7a7a7a" stroke-width="0.45"/>
<rect x="127.7" y="242.3" width="3.700000000000003" height="6.5" fill="#7e7e7e"/>
<rect x="128.7" y="243.0" width="1.7000000000000028" height="5.8" fill="#b2b2b2"/>
<line x1="135.0" y1="242.3" x2="135.0" y2="240.70000000000002" stroke="#7a7a7a" stroke-width="0.5"/>
<line x1="134.0" y1="240.70000000000002" x2="136.0" y2="240.70000000000002" stroke="#7a7a7a" stroke-width="0.45"/>
<rect x="133.2" y="242.3" width="3.6000000000000227" height="6.5" fill="#8a8a8a"/>
<line x1="144.55" y1="240" x2="144.55" y2="238.4" stroke="#2a2a2a" stroke-width="0.5"/>
<line x1="143.55" y1="238.4" x2="145.55" y2="238.4" stroke="#2a2a2a" stroke-width="0.45"/>
<rect x="142.7" y="240" width="3.700000000000017" height="8.800000000000011" fill="#0a0a0a"/>
<line x1="150.2" y1="239.5" x2="150.2" y2="236.5" stroke="#7a7a7a" stroke-width="0.5"/>
<line x1="149.2" y1="236.5" x2="151.2" y2="236.5" stroke="#7a7a7a" stroke-width="0.45"/>
<rect x="148.4" y="239.5" width="3.5999999999999943" height="9.300000000000011" fill="#7e7e7e"/>
<rect x="149.4" y="240.2" width="1.5999999999999943" height="8.600000000000012" fill="#b2b2b2"/>
<line x1="155.9" y1="229.3" x2="155.9" y2="225.9" stroke="#7a7a7a" stroke-width="0.5"/>
<line x1="154.9" y1="225.9" x2="156.9" y2="225.9" stroke="#7a7a7a" stroke-width="0.45"/>
<rect x="154" y="229.3" width="3.8000000000000114" height="19.5" fill="#8a8a8a"/>
<line x1="165.1" y1="238.1" x2="165.1" y2="235.7" stroke="#2a2a2a" stroke-width="0.5"/>
<line x1="164.1" y1="235.7" x2="166.1" y2="235.7" stroke="#2a2a2a" stroke-width="0.45"/>
<rect x="163.2" y="238.1" width="3.8000000000000114" height="10.700000000000017" fill="#0a0a0a"/>
<line x1="170.85" y1="238.5" x2="170.85" y2="234.9" stroke="#7a7a7a" stroke-width="0.5"/>
<line x1="169.85" y1="234.9" x2="171.85" y2="234.9" stroke="#7a7a7a" stroke-width="0.45"/>
<rect x="169" y="238.5" width="3.6999999999999886" height="10.300000000000011" fill="#7e7e7e"/>
<rect x="170.0" y="239.2" width="1.6999999999999886" height="9.600000000000012" fill="#b2b2b2"/>
<line x1="176.4" y1="218" x2="176.4" y2="214.4" stroke="#7a7a7a" stroke-width="0.5"/>
<line x1="175.4" y1="214.4" x2="177.4" y2="214.4" stroke="#7a7a7a" stroke-width="0.45"/>
<rect x="174.5" y="218" width="3.8000000000000114" height="30.80000000000001" fill="#8a8a8a"/>
<line x1="120.5" y1="209.45" x2="120.5" y2="249.10000000000002" stroke="#111" stroke-width="0.7"/>
<line x1="120.2" y1="248.8" x2="180" y2="248.8" stroke="#111" stroke-width="0.7"/>
<line x1="119.1" y1="248.8" x2="120.5" y2="248.8" stroke="#111" stroke-width="0.5"/>
<text x="118.1" y="249.70000000000002" font-size="2.6" font-weight="bold" text-anchor="end" fill="#222" transform="rotate(0.05 118.1 249.70000000000002)" stroke="#222" stroke-width="0.156">0</text>
<line x1="119.1" y1="239.03750000000002" x2="120.5" y2="239.03750000000002" stroke="#111" stroke-width="0.5"/>
<text x="118.1" y="239.93750000000003" font-size="2.6" font-weight="bold" text-anchor="end" fill="#222" transform="rotate(0.05 118.1 239.93750000000003)" stroke="#222" stroke-width="0.156">20</text>
<line x1="119.1" y1="229.275" x2="120.5" y2="229.275" stroke="#111" stroke-width="0.5"/>
<text x="118.1" y="230.175" font-size="2.6" font-weight="bold" text-anchor="end" fill="#222" transform="rotate(0.05 118.1 230.175)" stroke="#222" stroke-width="0.156">40</text>
<line x1="119.1" y1="219.5125" x2="120.5" y2="219.5125" stroke="#111" stroke-width="0.5"/>
<text x="118.1" y="220.4125" font-size="2.6" font-weight="bold" text-anchor="end" fill="#222" transform="rotate(0.05 118.1 220.4125)" stroke="#222" stroke-width="0.156">60</text>
<line x1="119.1" y1="209.75" x2="120.5" y2="209.75" stroke="#111" stroke-width="0.5"/>
<text x="118.1" y="210.65" font-size="2.6" font-weight="bold" text-anchor="end" fill="#222" transform="rotate(0.05 118.1 210.65)" stroke="#222" stroke-width="0.156">80</text>
<text x="112.3" y="227.4" font-size="2.6" font-weight="bold" text-anchor="middle" fill="#2a2a2a" transform="rotate(-89.95 112.3 227.4)" stroke="#2a2a2a" stroke-width="0.156">Apoptosis (%)</text>
<text x="150.2" y="206.3" font-size="3.6" font-weight="bold" text-anchor="middle" fill="#222" transform="rotate(0.05 150.2 206.3)" stroke="#222" stroke-width="0.216">HBL1</text>
<rect x="122.0" y="210.7" width="3.4" height="1.6" fill="#0a0a0a"/>
<text x="128.0" y="212.45" font-size="2.7" font-weight="bold" text-anchor="start" fill="#555" transform="rotate(0.05 128.0 212.45)" stroke="#555" stroke-width="0.162">INCB057643</text>
<rect x="122.0" y="213.29999999999998" width="3.4" height="1.6" fill="#808080"/>
<text x="128.0" y="215.04999999999998" font-size="2.7" font-weight="bold" text-anchor="start" fill="#555" transform="rotate(0.05 128.0 215.04999999999998)" stroke="#555" stroke-width="0.162">Venetoclax</text>
<rect x="122.0" y="216.1" width="3.4" height="1.6" fill="#7a7a7a"/>
<text x="128.0" y="217.85" font-size="2.7" font-weight="bold" text-anchor="start" fill="#555" transform="rotate(0.05 128.0 217.85)" stroke="#555" stroke-width="0.162">Combo</text>
<text x="121.7" y="253.2" font-size="2.9" font-weight="bold" text-anchor="end" fill="#222" transform="rotate(0.05 121.7 253.2)" stroke="#222" stroke-width="0.174">INCB057643 (μmol/L)</text>
<text x="121.7" y="256.5" font-size="2.9" font-weight="bold" text-anchor="end" fill="#222" transform="rotate(0.05 121.7 256.5)" stroke="#222" stroke-width="0.174">Venetoclax (nmol/L)</text>
<line x1="129.9" y1="248.8" x2="129.9" y2="250.10000000000002" stroke="#111" stroke-width="0.5"/>
<text x="129.9" y="253.2" font-size="2.9" font-weight="bold" text-anchor="middle" fill="#222" transform="rotate(0.05 129.9 253.2)" stroke="#222" stroke-width="0.174">0</text>
<text x="129.9" y="256.5" font-size="2.9" font-weight="bold" text-anchor="middle" fill="#222" transform="rotate(0.05 129.9 256.5)" stroke="#222" stroke-width="0.174">0</text>
<line x1="150.3" y1="248.8" x2="150.3" y2="250.10000000000002" stroke="#111" stroke-width="0.5"/>
<text x="150.3" y="253.2" font-size="2.9" font-weight="bold" text-anchor="middle" fill="#222" transform="rotate(0.05 150.3 253.2)" stroke="#222" stroke-width="0.174">0.625</text>
<text x="150.3" y="256.5" font-size="2.9" font-weight="bold" text-anchor="middle" fill="#222" transform="rotate(0.05 150.3 256.5)" stroke="#222" stroke-width="0.174">6.25</text>
<line x1="170.9" y1="248.8" x2="170.9" y2="250.10000000000002" stroke="#111" stroke-width="0.5"/>
<text x="170.9" y="253.2" font-size="2.9" font-weight="bold" text-anchor="middle" fill="#222" transform="rotate(0.05 170.9 253.2)" stroke="#222" stroke-width="0.174">1.25</text>
<text x="170.9" y="256.5" font-size="2.9" font-weight="bold" text-anchor="middle" fill="#222" transform="rotate(0.05 170.9 256.5)" stroke="#222" stroke-width="0.174">12.5</text>
<line x1="146.5" y1="221.0" x2="152.7" y2="221.0" stroke="#d4d4d4" stroke-width="0.5"/>
<text x="149.6" y="220.6" font-size="2.8" font-weight="normal" text-anchor="middle" fill="#3a3a3a" transform="rotate(0.05 149.6 220.6)">*</text>
<line x1="150.4" y1="224.1" x2="154.4" y2="224.1" stroke="#d4d4d4" stroke-width="0.5"/>
<text x="152.4" y="223.7" font-size="2.8" font-weight="normal" text-anchor="middle" fill="#3a3a3a" transform="rotate(0.05 152.4 223.7)">*</text>
<line x1="167" y1="210.0" x2="174" y2="210.0" stroke="#d4d4d4" stroke-width="0.5"/>
<text x="170.5" y="209.6" font-size="2.8" font-weight="normal" text-anchor="middle" fill="#3a3a3a" transform="rotate(0.05 170.5 209.6)">*</text>
<line x1="171.6" y1="212.9" x2="175.6" y2="212.9" stroke="#d4d4d4" stroke-width="0.5"/>
<text x="173.6" y="212.5" font-size="2.8" font-weight="normal" text-anchor="middle" fill="#3a3a3a" transform="rotate(0.05 173.6 212.5)">*</text>
<line x1="217.95" y1="245.75" x2="217.95" y2="245.25" stroke="#2a2a2a" stroke-width="0.5"/>
<line x1="216.95" y1="245.25" x2="218.95" y2="245.25" stroke="#2a2a2a" stroke-width="0.45"/>
<rect x="216.1" y="245.75" width="3.700000000000017" height="2.5500000000000114" fill="#0a0a0a"/>
<line x1="223.55" y1="245.4" x2="223.55" y2="244.9" stroke="#7a7a7a" stroke-width="0.5"/>
<line x1="222.55" y1="244.9" x2="224.55" y2="244.9" stroke="#7a7a7a" stroke-width="0.45"/>
<rect x="221.7" y="245.4" width="3.700000000000017" height="2.9000000000000057" fill="#7e7e7e"/>
<rect x="222.7" y="246.1" width="1.700000000000017" height="2.2000000000000055" fill="#b2b2b2"/>
<line x1="229.1" y1="245.4" x2="229.1" y2="244.9" stroke="#7a7a7a" stroke-width="0.5"/>
<line x1="228.1" y1="244.9" x2="230.1" y2="244.9" stroke="#7a7a7a" stroke-width="0.45"/>
<rect x="227.2" y="245.4" width="3.8000000000000114" height="2.9000000000000057" fill="#8a8a8a"/>
<line x1="238.9" y1="242.25" x2="238.9" y2="241.45" stroke="#2a2a2a" stroke-width="0.5"/>
<line x1="237.9" y1="241.45" x2="239.9" y2="241.45" stroke="#2a2a2a" stroke-width="0.45"/>
<rect x="237" y="242.25" width="3.8000000000000114" height="6.050000000000011" fill="#0a0a0a"/>
<line x1="244.25" y1="236.4" x2="244.25" y2="235.4" stroke="#7a7a7a" stroke-width="0.5"/>
<line x1="243.25" y1="235.4" x2="245.25" y2="235.4" stroke="#7a7a7a" stroke-width="0.45"/>
<rect x="242.4" y="236.4" width="3.6999999999999886" height="11.900000000000006" fill="#7e7e7e"/>
<rect x="243.4" y="237.1" width="1.6999999999999886" height="11.200000000000006" fill="#b2b2b2"/>
<line x1="250.1" y1="227.2" x2="250.1" y2="222.0" stroke="#7a7a7a" stroke-width="0.5"/>
<line x1="249.1" y1="222.0" x2="251.1" y2="222.0" stroke="#7a7a7a" stroke-width="0.45"/>
<rect x="248.2" y="227.2" width="3.8000000000000114" height="21.100000000000023" fill="#8a8a8a"/>
<line x1="259.5" y1="236" x2="259.5" y2="233.8" stroke="#2a2a2a" stroke-width="0.5"/>
<line x1="258.5" y1="233.8" x2="260.5" y2="233.8" stroke="#2a2a2a" stroke-width="0.45"/>
<rect x="257.6" y="236" width="3.7999999999999545" height="12.300000000000011" fill="#0a0a0a"/>
<line x1="265.1" y1="230.7" x2="265.1" y2="227.29999999999998" stroke="#7a7a7a" stroke-width="0.5"/>
<line x1="264.1" y1="227.29999999999998" x2="266.1" y2="227.29999999999998" stroke="#7a7a7a" stroke-width="0.45"/>
<rect x="263.2" y="230.7" width="3.8000000000000114" height="17.600000000000023" fill="#7e7e7e"/>
<rect x="264.2" y="231.39999999999998" width="1.8000000000000114" height="16.900000000000023" fill="#b2b2b2"/>
<line x1="270.9" y1="216" x2="270.9" y2="212.6" stroke="#7a7a7a" stroke-width="0.5"/>
<line x1="269.9" y1="212.6" x2="271.9" y2="212.6" stroke="#7a7a7a" stroke-width="0.45"/>
<rect x="268.9" y="216" width="4.0" height="32.30000000000001" fill="#8a8a8a"/>
<line x1="214.8" y1="208.95" x2="214.8" y2="248.60000000000002" stroke="#111" stroke-width="0.7"/>
<line x1="214.5" y1="248.3" x2="274" y2="248.3" stroke="#111" stroke-width="0.7"/>
<line x1="213.4" y1="248.3" x2="214.8" y2="248.3" stroke="#111" stroke-width="0.5"/>
<text x="212.4" y="249.20000000000002" font-size="2.6" font-weight="bold" text-anchor="end" fill="#222" transform="rotate(0.05 212.4 249.20000000000002)" stroke="#222" stroke-width="0.156">0</text>
<line x1="213.4" y1="238.53750000000002" x2="214.8" y2="238.53750000000002" stroke="#111" stroke-width="0.5"/>
<text x="212.4" y="239.43750000000003" font-size="2.6" font-weight="bold" text-anchor="end" fill="#222" transform="rotate(0.05 212.4 239.43750000000003)" stroke="#222" stroke-width="0.156">20</text>
<line x1="213.4" y1="228.775" x2="214.8" y2="228.775" stroke="#111" stroke-width="0.5"/>
<text x="212.4" y="229.675" font-size="2.6" font-weight="bold" text-anchor="end" fill="#222" transform="rotate(0.05 212.4 229.675)" stroke="#222" stroke-width="0.156">40</text>
<line x1="213.4" y1="219.0125" x2="214.8" y2="219.0125" stroke="#111" stroke-width="0.5"/>
<text x="212.4" y="219.9125" font-size="2.6" font-weight="bold" text-anchor="end" fill="#222" transform="rotate(0.05 212.4 219.9125)" stroke="#222" stroke-width="0.156">60</text>
<line x1="213.4" y1="209.25" x2="214.8" y2="209.25" stroke="#111" stroke-width="0.5"/>
<text x="212.4" y="210.15" font-size="2.6" font-weight="bold" text-anchor="end" fill="#222" transform="rotate(0.05 212.4 210.15)" stroke="#222" stroke-width="0.156">80</text>
<text x="206.3" y="226.4" font-size="2.6" font-weight="bold" text-anchor="middle" fill="#2a2a2a" transform="rotate(-89.95 206.3 226.4)" stroke="#2a2a2a" stroke-width="0.156">Apoptosis (%)</text>
<text x="244.6" y="205.3" font-size="3.6" font-weight="bold" text-anchor="middle" fill="#222" transform="rotate(0.05 244.6 205.3)" stroke="#222" stroke-width="0.216">TMD8</text>
<rect x="215.8" y="208.7" width="3.4" height="1.6" fill="#0a0a0a"/>
<text x="221.8" y="210.45" font-size="2.7" font-weight="bold" text-anchor="start" fill="#555" transform="rotate(0.05 221.8 210.45)" stroke="#555" stroke-width="0.162">INCB057643</text>
<rect x="215.8" y="211.6" width="3.4" height="1.6" fill="#808080"/>
<text x="221.8" y="213.35" font-size="2.7" font-weight="bold" text-anchor="start" fill="#555" transform="rotate(0.05 221.8 213.35)" stroke="#555" stroke-width="0.162">Venetoclax</text>
<rect x="215.8" y="214.45" width="3.4" height="1.6" fill="#7a7a7a"/>
<text x="221.8" y="216.2" font-size="2.7" font-weight="bold" text-anchor="start" fill="#555" transform="rotate(0.05 221.8 216.2)" stroke="#555" stroke-width="0.162">Combo</text>
<text x="215.7" y="253.2" font-size="2.9" font-weight="bold" text-anchor="end" fill="#222" transform="rotate(0.05 215.7 253.2)" stroke="#222" stroke-width="0.174">INCB057643 (μmol/L)</text>
<text x="215.7" y="256.5" font-size="2.9" font-weight="bold" text-anchor="end" fill="#222" transform="rotate(0.05 215.7 256.5)" stroke="#222" stroke-width="0.174">Venetoclax (nmol/L)</text>
<line x1="223.5" y1="248.3" x2="223.5" y2="249.60000000000002" stroke="#111" stroke-width="0.5"/>
<text x="223.5" y="253.2" font-size="2.9" font-weight="bold" text-anchor="middle" fill="#222" transform="rotate(0.05 223.5 253.2)" stroke="#222" stroke-width="0.174">0</text>
<text x="223.5" y="256.5" font-size="2.9" font-weight="bold" text-anchor="middle" fill="#222" transform="rotate(0.05 223.5 256.5)" stroke="#222" stroke-width="0.174">0</text>
<line x1="244.3" y1="248.3" x2="244.3" y2="249.60000000000002" stroke="#111" stroke-width="0.5"/>
<text x="244.3" y="253.2" font-size="2.9" font-weight="bold" text-anchor="middle" fill="#222" transform="rotate(0.05 244.3 253.2)" stroke="#222" stroke-width="0.174">0.625</text>
<text x="244.3" y="256.5" font-size="2.9" font-weight="bold" text-anchor="middle" fill="#222" transform="rotate(0.05 244.3 256.5)" stroke="#222" stroke-width="0.174">1.56</text>
<line x1="265.1" y1="248.3" x2="265.1" y2="249.60000000000002" stroke="#111" stroke-width="0.5"/>
<text x="265.1" y="253.2" font-size="2.9" font-weight="bold" text-anchor="middle" fill="#222" transform="rotate(0.05 265.1 253.2)" stroke="#222" stroke-width="0.174">1.25</text>
<text x="265.1" y="256.5" font-size="2.9" font-weight="bold" text-anchor="middle" fill="#222" transform="rotate(0.05 265.1 256.5)" stroke="#222" stroke-width="0.174">3.125</text>
<line x1="241" y1="218.4" x2="248" y2="218.4" stroke="#d4d4d4" stroke-width="0.5"/>
<text x="244.5" y="218.0" font-size="2.6" font-weight="normal" text-anchor="middle" fill="#3a3a3a" transform="rotate(0.05 244.5 218.0)">**</text>
<line x1="244.7" y1="220.9" x2="248.8" y2="220.9" stroke="#d4d4d4" stroke-width="0.5"/>
<text x="246.75" y="220.5" font-size="2.6" font-weight="normal" text-anchor="middle" fill="#3a3a3a" transform="rotate(0.05 246.75 220.5)">**</text>
<line x1="262" y1="208.4" x2="269" y2="208.4" stroke="#d4d4d4" stroke-width="0.5"/>
<text x="265.5" y="208.0" font-size="2.6" font-weight="normal" text-anchor="middle" fill="#3a3a3a" transform="rotate(0.05 265.5 208.0)">**</text>
<line x1="265.9" y1="211.1" x2="269.9" y2="211.1" stroke="#d4d4d4" stroke-width="0.5"/>
<text x="267.9" y="210.7" font-size="2.6" font-weight="normal" text-anchor="middle" fill="#3a3a3a" transform="rotate(0.05 267.9 210.7)">***</text>
<line x1="311.15" y1="236.6" x2="311.15" y2="235.0" stroke="#2a2a2a" stroke-width="0.5"/>
<line x1="310.15" y1="235.0" x2="312.15" y2="235.0" stroke="#2a2a2a" stroke-width="0.45"/>
<rect x="309.4" y="236.6" width="3.5" height="11.0" fill="#0a0a0a"/>
<line x1="316.54999999999995" y1="236.25" x2="316.54999999999995" y2="234.25" stroke="#7a7a7a" stroke-width="0.5"/>
<line x1="315.54999999999995" y1="234.25" x2="317.54999999999995" y2="234.25" stroke="#7a7a7a" stroke-width="0.45"/>
<rect x="314.7" y="236.25" width="3.6999999999999886" height="11.349999999999994" fill="#7e7e7e"/>
<rect x="315.7" y="236.95" width="1.6999999999999886" height="10.649999999999995" fill="#b2b2b2"/>
<line x1="322.0" y1="236.25" x2="322.0" y2="234.65" stroke="#7a7a7a" stroke-width="0.5"/>
<line x1="321.0" y1="234.65" x2="323.0" y2="234.65" stroke="#7a7a7a" stroke-width="0.45"/>
<rect x="320.2" y="236.25" width="3.6000000000000227" height="11.349999999999994" fill="#8a8a8a"/>
<line x1="331.15" y1="235.75" x2="331.15" y2="233.75" stroke="#2a2a2a" stroke-width="0.5"/>
<line x1="330.15" y1="233.75" x2="332.15" y2="233.75" stroke="#2a2a2a" stroke-width="0.45"/>
<rect x="329.4" y="235.75" width="3.5" height="11.849999999999994" fill="#0a0a0a"/>
<line x1="336.75" y1="235.4" x2="336.75" y2="232.6" stroke="#7a7a7a" stroke-width="0.5"/>
<line x1="335.75" y1="232.6" x2="337.75" y2="232.6" stroke="#7a7a7a" stroke-width="0.45"/>
<rect x="335" y="235.4" width="3.5" height="12.199999999999989" fill="#7e7e7e"/>
<rect x="336.0" y="236.1" width="1.5" height="11.49999999999999" fill="#b2b2b2"/>
<line x1="342.2" y1="231" x2="342.2" y2="229.2" stroke="#7a7a7a" stroke-width="0.5"/>
<line x1="341.2" y1="229.2" x2="343.2" y2="229.2" stroke="#7a7a7a" stroke-width="0.45"/>
<rect x="340.4" y="231" width="3.6000000000000227" height="16.599999999999994" fill="#8a8a8a"/>
<line x1="351.25" y1="232" x2="351.25" y2="229.6" stroke="#2a2a2a" stroke-width="0.5"/>
<line x1="350.25" y1="229.6" x2="352.25" y2="229.6" stroke="#2a2a2a" stroke-width="0.45"/>
<rect x="349.4" y="232" width="3.7000000000000455" height="15.599999999999994" fill="#0a0a0a"/>
<line x1="356.9" y1="232" x2="356.9" y2="228.6" stroke="#7a7a7a" stroke-width="0.5"/>
<line x1="355.9" y1="228.6" x2="357.9" y2="228.6" stroke="#7a7a7a" stroke-width="0.45"/>
<rect x="355" y="232" width="3.8000000000000114" height="15.599999999999994" fill="#7e7e7e"/>
<rect x="356.0" y="232.7" width="1.8000000000000114" height="14.899999999999995" fill="#b2b2b2"/>
<line x1="362.2" y1="221" x2="362.2" y2="216.8" stroke="#7a7a7a" stroke-width="0.5"/>
<line x1="361.2" y1="216.8" x2="363.2" y2="216.8" stroke="#7a7a7a" stroke-width="0.45"/>
<rect x="360.4" y="221" width="3.6000000000000227" height="26.599999999999994" fill="#8a8a8a"/>
<line x1="307.5" y1="208.2" x2="307.5" y2="247.9" stroke="#111" stroke-width="0.7"/>
<line x1="307.2" y1="247.6" x2="366.3" y2="247.6" stroke="#111" stroke-width="0.7"/>
<line x1="306.1" y1="247.6" x2="307.5" y2="247.6" stroke="#111" stroke-width="0.5"/>
<text x="305.1" y="248.5" font-size="2.6" font-weight="bold" text-anchor="end" fill="#222" transform="rotate(0.05 305.1 248.5)" stroke="#222" stroke-width="0.156">0</text>
<line x1="306.1" y1="237.825" x2="307.5" y2="237.825" stroke="#111" stroke-width="0.5"/>
<text x="305.1" y="238.725" font-size="2.6" font-weight="bold" text-anchor="end" fill="#222" transform="rotate(0.05 305.1 238.725)" stroke="#222" stroke-width="0.156">20</text>
<line x1="306.1" y1="228.05" x2="307.5" y2="228.05" stroke="#111" stroke-width="0.5"/>
<text x="305.1" y="228.95000000000002" font-size="2.6" font-weight="bold" text-anchor="end" fill="#222" transform="rotate(0.05 305.1 228.95000000000002)" stroke="#222" stroke-width="0.156">40</text>
<line x1="306.1" y1="218.275" x2="307.5" y2="218.275" stroke="#111" stroke-width="0.5"/>
<text x="305.1" y="219.175" font-size="2.6" font-weight="bold" text-anchor="end" fill="#222" transform="rotate(0.05 305.1 219.175)" stroke="#222" stroke-width="0.156">60</text>
<line x1="306.1" y1="208.5" x2="307.5" y2="208.5" stroke="#111" stroke-width="0.5"/>
<text x="305.1" y="209.4" font-size="2.6" font-weight="bold" text-anchor="end" fill="#222" transform="rotate(0.05 305.1 209.4)" stroke="#222" stroke-width="0.156">80</text>
<text x="299.3" y="226.5" font-size="2.6" font-weight="bold" text-anchor="middle" fill="#2a2a2a" transform="rotate(-89.95 299.3 226.5)" stroke="#2a2a2a" stroke-width="0.156">Apoptosis (%)</text>
<text x="336.4" y="206.2" font-size="3.6" font-weight="bold" text-anchor="middle" fill="#222" transform="rotate(0.05 336.4 206.2)" stroke="#222" stroke-width="0.216">MZ</text>
<rect x="308.1" y="210.1" width="3.4" height="1.6" fill="#0a0a0a"/>
<text x="314.1" y="211.85" font-size="2.7" font-weight="bold" text-anchor="start" fill="#555" transform="rotate(0.05 314.1 211.85)" stroke="#555" stroke-width="0.162">INCB057643</text>
<rect x="308.1" y="213.45" width="3.4" height="1.6" fill="#808080"/>
<text x="314.1" y="215.2" font-size="2.7" font-weight="bold" text-anchor="start" fill="#555" transform="rotate(0.05 314.1 215.2)" stroke="#555" stroke-width="0.162">Venetoclax</text>
<rect x="308.1" y="216.6" width="3.4" height="1.6" fill="#7a7a7a"/>
<text x="314.1" y="218.35" font-size="2.7" font-weight="bold" text-anchor="start" fill="#555" transform="rotate(0.05 314.1 218.35)" stroke="#555" stroke-width="0.162">Combo</text>
<text x="308.1" y="251.9" font-size="2.9" font-weight="bold" text-anchor="end" fill="#222" transform="rotate(0.05 308.1 251.9)" stroke="#222" stroke-width="0.174">INCB057643 (μmol/L)</text>
<text x="308.1" y="255.0" font-size="2.9" font-weight="bold" text-anchor="end" fill="#222" transform="rotate(0.05 308.1 255.0)" stroke="#222" stroke-width="0.174">Venetoclax (nmol/L)</text>
<line x1="316.5" y1="247.6" x2="316.5" y2="248.9" stroke="#111" stroke-width="0.5"/>
<text x="316.5" y="251.9" font-size="2.9" font-weight="bold" text-anchor="middle" fill="#222" transform="rotate(0.05 316.5 251.9)" stroke="#222" stroke-width="0.174">0</text>
<text x="316.5" y="255.0" font-size="2.9" font-weight="bold" text-anchor="middle" fill="#222" transform="rotate(0.05 316.5 255.0)" stroke="#222" stroke-width="0.174">0</text>
<line x1="337.2" y1="247.6" x2="337.2" y2="248.9" stroke="#111" stroke-width="0.5"/>
<text x="337.2" y="251.9" font-size="2.9" font-weight="bold" text-anchor="middle" fill="#222" transform="rotate(0.05 337.2 251.9)" stroke="#222" stroke-width="0.174">0.625</text>
<text x="337.2" y="255.0" font-size="2.9" font-weight="bold" text-anchor="middle" fill="#222" transform="rotate(0.05 337.2 255.0)" stroke="#222" stroke-width="0.174">25</text>
<line x1="356.9" y1="247.6" x2="356.9" y2="248.9" stroke="#111" stroke-width="0.5"/>
<text x="356.9" y="251.9" font-size="2.9" font-weight="bold" text-anchor="middle" fill="#222" transform="rotate(0.05 356.9 251.9)" stroke="#222" stroke-width="0.174">1.25</text>
<text x="356.9" y="255.0" font-size="2.9" font-weight="bold" text-anchor="middle" fill="#222" transform="rotate(0.05 356.9 255.0)" stroke="#222" stroke-width="0.174">50</text>
<line x1="333" y1="224.0" x2="339.5" y2="224.0" stroke="#d4d4d4" stroke-width="0.5"/>
<text x="336.25" y="223.6" font-size="2.4" font-weight="normal" text-anchor="middle" fill="#3a3a3a" transform="rotate(0.05 336.25 223.6)">ns</text>
<line x1="336.5" y1="227.1" x2="340.5" y2="227.1" stroke="#d4d4d4" stroke-width="0.5"/>
<text x="338.5" y="226.7" font-size="2.4" font-weight="normal" text-anchor="middle" fill="#3a3a3a" transform="rotate(0.05 338.5 226.7)">ns</text>
<line x1="353" y1="211.5" x2="359.5" y2="211.5" stroke="#d4d4d4" stroke-width="0.5"/>
<text x="356.25" y="211.1" font-size="2.4" font-weight="normal" text-anchor="middle" fill="#3a3a3a" transform="rotate(0.05 356.25 211.1)">*</text>
<line x1="357" y1="215.9" x2="361" y2="215.9" stroke="#d4d4d4" stroke-width="0.5"/>
<text x="359.0" y="215.5" font-size="2.4" font-weight="normal" text-anchor="middle" fill="#3a3a3a" transform="rotate(0.05 359.0 215.5)">ns</text>
<line x1="40.0" y1="138.2" x2="103.6" y2="138.2" stroke="#c8c8c8" stroke-width="0.5"/>
<path d="M46.8,112.2 L47.0,113.3 L47.2,114.7 L47.5,116.5 L47.9,118.3 L48.2,120.0 L48.6,121.6 L48.9,123.3 L49.3,124.9 L49.8,126.5 L50.2,128.0 L50.6,129.4 L51.1,130.6 L51.6,131.8 L52.0,133.0 L52.5,134.0 L52.9,134.9 L53.4,135.8 L53.8,136.6 L54.3,137.3 L54.9,138.0 L55.6,138.7 L56.4,139.4 L57.2,140.1 L58.1,140.7 L59.0,141.2 L59.9,141.7 L60.9,142.1 L61.9,142.4 L63.0,142.8 L64.0,143.1 L65.0,143.4 L65.9,143.7 L66.9,143.9 L68.0,144.2 L69.3,144.5 L70.8,144.8 L72.6,145.2 L74.4,145.6 L76.3,146.0 L78.0,146.4 L79.7,146.8 L81.3,147.3 L82.9,147.7 L84.5,148.2 L86.0,148.6 L87.5,149.0 L89.0,149.4 L90.4,149.9 L91.7,150.2 L93.0,150.6 L94.1,150.9 L95.2,151.2 L96.1,151.5 L97.1,151.7 L98.0,152.0 L99.0,152.3 L100.1,152.6 L101.0,152.8 L101.9,153.0 L102.5,153.2" fill="none" stroke="#a8a8a8" stroke-width="0.5" stroke-linejoin="round"/>
<circle cx="54.9" cy="138.2" r="0.8" fill="#d0d0d0" stroke="#b0b0b0" stroke-width="0.2"/>
<circle cx="69.3" cy="144.4" r="0.8" fill="#d0d0d0" stroke="#b0b0b0" stroke-width="0.2"/>
<circle cx="93" cy="150.6" r="0.8" fill="#d0d0d0" stroke="#b0b0b0" stroke-width="0.2"/>
<line x1="40.0" y1="111.0" x2="40.0" y2="164.20000000000002" stroke="#b4b4b4" stroke-width="0.55"/>
<line x1="39.7" y1="163.9" x2="103.89999999999999" y2="163.9" stroke="#b4b4b4" stroke-width="0.55"/>
<line x1="39.0" y1="163.9" x2="40.0" y2="163.9" stroke="#b4b4b4" stroke-width="0.4"/>
<line x1="40.0" y1="163.9" x2="40.0" y2="164.9" stroke="#b4b4b4" stroke-width="0.4"/>
<line x1="39.0" y1="137.6" x2="40.0" y2="137.6" stroke="#b4b4b4" stroke-width="0.4"/>
<line x1="71.8" y1="163.9" x2="71.8" y2="164.9" stroke="#b4b4b4" stroke-width="0.4"/>
<line x1="39.0" y1="111.3" x2="40.0" y2="111.3" stroke="#b4b4b4" stroke-width="0.4"/>
<line x1="103.6" y1="163.9" x2="103.6" y2="164.9" stroke="#b4b4b4" stroke-width="0.4"/>
<text x="38.8" y="112.5" font-size="2.8" font-weight="bold" text-anchor="end" fill="#161616" transform="rotate(0.05 38.8 112.5)" stroke="#161616" stroke-width="0.12">2</text>
<text x="38.4" y="167.20000000000002" font-size="3.3" font-weight="bold" text-anchor="end" fill="#161616" transform="rotate(0.05 38.4 167.20000000000002)" stroke="#161616" stroke-width="0.18">0</text>
<text x="71.2" y="167.8" font-size="3.3" font-weight="bold" text-anchor="middle" fill="#161616" transform="rotate(0.05 71.2 167.8)" stroke="#161616" stroke-width="0.18">0.5</text>
<text x="103.6" y="167.5" font-size="3.3" font-weight="bold" text-anchor="middle" fill="#161616" transform="rotate(0.05 103.6 167.5)" stroke="#161616" stroke-width="0.18">1</text>
<text x="71.3" y="171.8" font-size="3.77" font-weight="bold" text-anchor="middle" fill="#161616" transform="rotate(0.05 71.3 171.8)" stroke="#161616" stroke-width="0.16">Fraction affected (FA)</text>
<text x="37.9" y="135.1" font-size="4.3" font-weight="bold" text-anchor="middle" fill="#161616" transform="rotate(-89.95 37.9 135.1)" stroke="#161616" stroke-width="0.06">Combination index (CI)</text>
<text x="74.6" y="118.5" font-size="4.9" font-weight="bold" text-anchor="middle" fill="#161616" transform="rotate(0.05 74.6 118.5)" stroke="#161616" stroke-width="0.22">GR</text>
<text x="76.2" y="130.4" font-size="4.3" font-weight="bold" text-anchor="middle" fill="#161616" transform="rotate(0.05 76.2 130.4)" stroke="#161616" stroke-width="0.2">INCB057643/Venentoclax</text>
<text x="52.8" y="143.4" font-size="3.4" font-weight="bold" text-anchor="middle" fill="#1c1c1c" transform="rotate(0.05 52.8 143.4)" stroke="#1c1c1c" stroke-width="0.2">1.034</text>
<text x="76.8" y="146.7" font-size="3.4" font-weight="bold" text-anchor="middle" fill="#1c1c1c" transform="rotate(0.05 76.8 146.7)" stroke="#1c1c1c" stroke-width="0.2">0.798</text>
<text x="92" y="157.0" font-size="3.4" font-weight="bold" text-anchor="middle" fill="#1c1c1c" transform="rotate(0.05 92 157.0)" stroke="#1c1c1c" stroke-width="0.2">0.482</text>
<line x1="119.5" y1="139.25" x2="183.7" y2="139.25" stroke="#c8c8c8" stroke-width="0.5"/>
<path d="M122.5,112.5 L122.6,114.0 L122.9,116.2 L123.1,118.7 L123.3,121.4 L123.6,124.0 L123.8,126.6 L124.0,129.4 L124.2,132.2 L124.5,134.8 L124.9,137.0 L125.4,138.7 L126.0,140.1 L126.6,141.3 L127.3,142.3 L128.0,143.3 L128.7,144.2 L129.3,144.9 L130.0,145.6 L130.7,146.2 L131.5,146.8 L132.3,147.4 L133.2,147.9 L134.0,148.4 L135.0,149.0 L136.1,149.5 L137.3,150.1 L138.6,150.7 L140.0,151.2 L141.5,151.8 L143.0,152.4 L144.6,153.0 L146.4,153.5 L148.2,154.1 L150.0,154.6 L151.7,155.1 L153.2,155.6 L154.7,156.0 L156.1,156.4 L157.5,156.8 L159.0,157.2 L160.5,157.6 L162.1,157.9 L163.7,158.2 L165.2,158.6 L166.7,158.9 L168.1,159.2 L169.3,159.5 L170.6,159.9 L171.8,160.2 L173.0,160.5 L174.3,160.8 L175.5,161.2 L176.8,161.6 L177.9,161.9 L179.0,162.3 L180.0,162.7 L180.9,163.1 L181.7,163.4 L182.3,163.8 L182.8,164.0" fill="none" stroke="#a8a8a8" stroke-width="0.5" stroke-linejoin="round"/>
<circle cx="136.1" cy="149.5" r="0.8" fill="#d0d0d0" stroke="#b0b0b0" stroke-width="0.2"/>
<circle cx="151.7" cy="155.1" r="0.8" fill="#d0d0d0" stroke="#b0b0b0" stroke-width="0.2"/>
<circle cx="166.7" cy="158.9" r="0.8" fill="#d0d0d0" stroke="#b0b0b0" stroke-width="0.2"/>
<line x1="119.5" y1="111.7" x2="119.5" y2="165.10000000000002" stroke="#b4b4b4" stroke-width="0.55"/>
<line x1="119.2" y1="164.8" x2="184.0" y2="164.8" stroke="#b4b4b4" stroke-width="0.55"/>
<line x1="118.5" y1="164.8" x2="119.5" y2="164.8" stroke="#b4b4b4" stroke-width="0.4"/>
<line x1="119.5" y1="164.8" x2="119.5" y2="165.8" stroke="#b4b4b4" stroke-width="0.4"/>
<line x1="118.5" y1="138.4" x2="119.5" y2="138.4" stroke="#b4b4b4" stroke-width="0.4"/>
<line x1="151.6" y1="164.8" x2="151.6" y2="165.8" stroke="#b4b4b4" stroke-width="0.4"/>
<line x1="118.5" y1="112.0" x2="119.5" y2="112.0" stroke="#b4b4b4" stroke-width="0.4"/>
<line x1="183.7" y1="164.8" x2="183.7" y2="165.8" stroke="#b4b4b4" stroke-width="0.4"/>
<text x="118.3" y="113.2" font-size="2.8" font-weight="bold" text-anchor="end" fill="#161616" transform="rotate(0.05 118.3 113.2)" stroke="#161616" stroke-width="0.12">2</text>
<text x="117.9" y="168.10000000000002" font-size="3.3" font-weight="bold" text-anchor="end" fill="#161616" transform="rotate(0.05 117.9 168.10000000000002)" stroke="#161616" stroke-width="0.18">0</text>
<text x="151.0" y="168.70000000000002" font-size="3.3" font-weight="bold" text-anchor="middle" fill="#161616" transform="rotate(0.05 151.0 168.70000000000002)" stroke="#161616" stroke-width="0.18">0.5</text>
<text x="183.7" y="168.4" font-size="3.3" font-weight="bold" text-anchor="middle" fill="#161616" transform="rotate(0.05 183.7 168.4)" stroke="#161616" stroke-width="0.18">1</text>
<text x="151.1" y="172.70000000000002" font-size="3.77" font-weight="bold" text-anchor="middle" fill="#161616" transform="rotate(0.05 151.1 172.70000000000002)" stroke="#161616" stroke-width="0.16">Fraction affected (FA)</text>
<text x="117.4" y="135.9" font-size="4.3" font-weight="bold" text-anchor="middle" fill="#161616" transform="rotate(-89.95 117.4 135.9)" stroke="#161616" stroke-width="0.06">Combination index (CI)</text>
<text x="154.5" y="119.1" font-size="4.9" font-weight="bold" text-anchor="middle" fill="#161616" transform="rotate(0.05 154.5 119.1)" stroke="#161616" stroke-width="0.22">HBL1</text>
<text x="153.9" y="132.3" font-size="4.3" font-weight="bold" text-anchor="middle" fill="#161616" transform="rotate(0.05 153.9 132.3)" stroke="#161616" stroke-width="0.2">INCB057643/Venentoclax</text>
<text x="141.3" y="146.4" font-size="3.4" font-weight="bold" text-anchor="middle" fill="#1c1c1c" transform="rotate(0.05 141.3 146.4)" stroke="#1c1c1c" stroke-width="0.2">0.598</text>
<text x="158" y="153.5" font-size="3.4" font-weight="bold" text-anchor="middle" fill="#1c1c1c" transform="rotate(0.05 158 153.5)" stroke="#1c1c1c" stroke-width="0.2">0.387</text>
<text x="170.9" y="156.2" font-size="3.4" font-weight="bold" text-anchor="middle" fill="#1c1c1c" transform="rotate(0.05 170.9 156.2)" stroke="#1c1c1c" stroke-width="0.2">0.26</text>
<line x1="201.5" y1="138.2" x2="265" y2="138.2" stroke="#c8c8c8" stroke-width="0.5"/>
<path d="M204.2,112.0 L204.5,113.0 L204.9,114.4 L205.4,116.1 L205.9,117.8 L206.5,119.5 L207.1,121.1 L207.8,122.8 L208.5,124.4 L209.2,126.0 L210.0,127.5 L210.8,128.9 L211.5,130.1 L212.3,131.3 L213.1,132.4 L214.0,133.5 L214.8,134.5 L215.7,135.4 L216.6,136.3 L217.6,137.2 L218.8,138.0 L220.3,138.9 L222.2,139.7 L224.1,140.6 L225.9,141.3 L227.5,142.0 L228.7,142.5 L229.7,143.0 L230.6,143.3 L231.5,143.7 L232.5,144.1 L233.5,144.5 L234.6,145.0 L235.7,145.4 L236.8,145.9 L238.1,146.4 L239.5,146.9 L241.0,147.5 L242.7,148.0 L244.3,148.6 L246.0,149.2 L247.8,149.9 L249.8,150.6 L251.7,151.3 L253.5,152.0 L255.0,152.6 L256.1,153.0 L256.8,153.4 L257.4,153.7 L257.9,154.0 L258.5,154.3 L259.1,154.7 L259.8,155.0 L260.4,155.4 L260.9,155.8 L261.5,156.2 L262.1,156.6 L262.7,157.1 L263.2,157.5 L263.7,157.9 L264.0,158.2" fill="none" stroke="#a8a8a8" stroke-width="0.5" stroke-linejoin="round"/>
<circle cx="218.8" cy="138.2" r="0.8" fill="#d0d0d0" stroke="#b0b0b0" stroke-width="0.2"/>
<circle cx="238.1" cy="146.4" r="0.8" fill="#d0d0d0" stroke="#b0b0b0" stroke-width="0.2"/>
<circle cx="257.5" cy="153.8" r="0.8" fill="#d0d0d0" stroke="#b0b0b0" stroke-width="0.2"/>
<line x1="201.5" y1="110.9" x2="201.5" y2="164.3" stroke="#b4b4b4" stroke-width="0.55"/>
<line x1="201.2" y1="164.0" x2="265.3" y2="164.0" stroke="#b4b4b4" stroke-width="0.55"/>
<line x1="200.5" y1="164.0" x2="201.5" y2="164.0" stroke="#b4b4b4" stroke-width="0.4"/>
<line x1="201.5" y1="164.0" x2="201.5" y2="165.0" stroke="#b4b4b4" stroke-width="0.4"/>
<line x1="200.5" y1="137.6" x2="201.5" y2="137.6" stroke="#b4b4b4" stroke-width="0.4"/>
<line x1="233.25" y1="164.0" x2="233.25" y2="165.0" stroke="#b4b4b4" stroke-width="0.4"/>
<line x1="200.5" y1="111.2" x2="201.5" y2="111.2" stroke="#b4b4b4" stroke-width="0.4"/>
<line x1="265.0" y1="164.0" x2="265.0" y2="165.0" stroke="#b4b4b4" stroke-width="0.4"/>
<text x="200.3" y="112.4" font-size="2.8" font-weight="bold" text-anchor="end" fill="#161616" transform="rotate(0.05 200.3 112.4)" stroke="#161616" stroke-width="0.12">2</text>
<text x="199.9" y="167.3" font-size="3.3" font-weight="bold" text-anchor="end" fill="#161616" transform="rotate(0.05 199.9 167.3)" stroke="#161616" stroke-width="0.18">0</text>
<text x="232.65" y="167.9" font-size="3.3" font-weight="bold" text-anchor="middle" fill="#161616" transform="rotate(0.05 232.65 167.9)" stroke="#161616" stroke-width="0.18">0.5</text>
<text x="265" y="167.6" font-size="3.3" font-weight="bold" text-anchor="middle" fill="#161616" transform="rotate(0.05 265 167.6)" stroke="#161616" stroke-width="0.18">1</text>
<text x="232.75" y="171.9" font-size="3.77" font-weight="bold" text-anchor="middle" fill="#161616" transform="rotate(0.05 232.75 171.9)" stroke="#161616" stroke-width="0.16">Fraction affected (FA)</text>
<text x="199.4" y="135.1" font-size="4.3" font-weight="bold" text-anchor="middle" fill="#161616" transform="rotate(-89.95 199.4 135.1)" stroke="#161616" stroke-width="0.06">Combination index (CI)</text>
<text x="235.4" y="118.4" font-size="4.9" font-weight="bold" text-anchor="middle" fill="#161616" transform="rotate(0.05 235.4 118.4)" stroke="#161616" stroke-width="0.22">TMD8</text>
<text x="236.6" y="127.0" font-size="4.3" font-weight="bold" text-anchor="middle" fill="#161616" transform="rotate(0.05 236.6 127.0)" stroke="#161616" stroke-width="0.2">INCB057643/Venentoclax</text>
<text x="218.3" y="144.5" font-size="3.4" font-weight="bold" text-anchor="middle" fill="#1c1c1c" transform="rotate(0.05 218.3 144.5)" stroke="#1c1c1c" stroke-width="0.2">0.990</text>
<text x="238.5" y="151.0" font-size="3.4" font-weight="bold" text-anchor="middle" fill="#1c1c1c" transform="rotate(0.05 238.5 151.0)" stroke="#1c1c1c" stroke-width="0.2">0.690</text>
<text x="256.1" y="160.7" font-size="3.4" font-weight="bold" text-anchor="middle" fill="#1c1c1c" transform="rotate(0.05 256.1 160.7)" stroke="#1c1c1c" stroke-width="0.2">0.378</text>
<line x1="284.5" y1="138.9" x2="350" y2="138.9" stroke="#c8c8c8" stroke-width="0.5"/>
<path d="M287.6,141.5 L287.7,141.6 L287.8,141.7 L287.9,141.9 L288.1,142.1 L288.3,142.4 L288.5,142.8 L288.7,143.2 L289.0,143.7 L289.3,144.2 L289.6,144.6 L290.0,145.0 L290.3,145.3 L290.7,145.7 L291.2,146.0 L291.8,146.4 L292.4,146.8 L293.1,147.2 L293.8,147.5 L294.8,147.9 L296.0,148.3 L297.6,148.7 L299.5,149.1 L301.6,149.4 L303.9,149.8 L306.1,150.1 L308.4,150.3 L310.9,150.5 L313.4,150.7 L315.8,150.8 L318.0,151.0 L319.9,151.2 L321.5,151.4 L323.1,151.6 L324.5,151.8 L326.0,152.0 L327.4,152.2 L328.8,152.4 L330.2,152.6 L331.6,152.8 L333.0,153.0 L334.5,153.2 L336.1,153.5 L337.8,153.7 L339.4,154.0 L341.0,154.2 L342.7,154.4 L344.5,154.7 L346.3,154.9 L347.7,155.2 L348.8,155.3" fill="none" stroke="#a8a8a8" stroke-width="0.5" stroke-linejoin="round"/>
<circle cx="306.1" cy="150.1" r="0.8" fill="#d0d0d0" stroke="#b0b0b0" stroke-width="0.2"/>
<circle cx="318" cy="151" r="0.8" fill="#d0d0d0" stroke="#b0b0b0" stroke-width="0.2"/>
<circle cx="333" cy="153" r="0.8" fill="#d0d0d0" stroke="#b0b0b0" stroke-width="0.2"/>
<line x1="284.5" y1="110.9" x2="284.5" y2="165.0" stroke="#b4b4b4" stroke-width="0.55"/>
<line x1="284.2" y1="164.7" x2="350.3" y2="164.7" stroke="#b4b4b4" stroke-width="0.55"/>
<line x1="283.5" y1="164.7" x2="284.5" y2="164.7" stroke="#b4b4b4" stroke-width="0.4"/>
<line x1="284.5" y1="164.7" x2="284.5" y2="165.7" stroke="#b4b4b4" stroke-width="0.4"/>
<line x1="283.5" y1="137.95" x2="284.5" y2="137.95" stroke="#b4b4b4" stroke-width="0.4"/>
<line x1="317.25" y1="164.7" x2="317.25" y2="165.7" stroke="#b4b4b4" stroke-width="0.4"/>
<line x1="283.5" y1="111.2" x2="284.5" y2="111.2" stroke="#b4b4b4" stroke-width="0.4"/>
<line x1="350.0" y1="164.7" x2="350.0" y2="165.7" stroke="#b4b4b4" stroke-width="0.4"/>
<text x="283.3" y="112.4" font-size="2.8" font-weight="bold" text-anchor="end" fill="#161616" transform="rotate(0.05 283.3 112.4)" stroke="#161616" stroke-width="0.12">2</text>
<text x="282.9" y="168.0" font-size="3.3" font-weight="bold" text-anchor="end" fill="#161616" transform="rotate(0.05 282.9 168.0)" stroke="#161616" stroke-width="0.18">0</text>
<text x="316.65" y="168.6" font-size="3.3" font-weight="bold" text-anchor="middle" fill="#161616" transform="rotate(0.05 316.65 168.6)" stroke="#161616" stroke-width="0.18">0.5</text>
<text x="350" y="168.29999999999998" font-size="3.3" font-weight="bold" text-anchor="middle" fill="#161616" transform="rotate(0.05 350 168.29999999999998)" stroke="#161616" stroke-width="0.18">1</text>
<text x="316.75" y="172.6" font-size="3.77" font-weight="bold" text-anchor="middle" fill="#161616" transform="rotate(0.05 316.75 172.6)" stroke="#161616" stroke-width="0.16">Fraction affected (FA)</text>
<text x="282.4" y="135.45" font-size="4.3" font-weight="bold" text-anchor="middle" fill="#161616" transform="rotate(-89.95 282.4 135.45)" stroke="#161616" stroke-width="0.06">Combination index (CI)</text>
<text x="315.6" y="118.6" font-size="4.9" font-weight="bold" text-anchor="middle" fill="#161616" transform="rotate(0.05 315.6 118.6)" stroke="#161616" stroke-width="0.22">MZ</text>
<line x1="312.0" y1="119.14999999999999" x2="319.20000000000005" y2="119.14999999999999" stroke="#161616" stroke-width="0.45"/>
<text x="318.6" y="129.3" font-size="4.3" font-weight="bold" text-anchor="middle" fill="#161616" transform="rotate(0.05 318.6 129.3)" stroke="#161616" stroke-width="0.2">INCB057643/Venentoclax</text>
<text x="306.9" y="146.7" font-size="3.4" font-weight="bold" text-anchor="middle" fill="#1c1c1c" transform="rotate(0.05 306.9 146.7)" stroke="#1c1c1c" stroke-width="0.2">0.551</text>
<text x="325" y="147.2" font-size="3.4" font-weight="bold" text-anchor="middle" fill="#1c1c1c" transform="rotate(0.05 325 147.2)" stroke="#1c1c1c" stroke-width="0.2">0.566</text>
<text x="333" y="158.5" font-size="3.4" font-weight="bold" text-anchor="middle" fill="#1c1c1c" transform="rotate(0.05 333 158.5)" stroke="#1c1c1c" stroke-width="0.2">0.463</text>
</g>
<text x="431.7" y="6.2" font-size="5.6" font-weight="normal" text-anchor="middle" fill="#000" transform="rotate(0.05 431.7 6.2)" stroke="#000" stroke-width="0.12">HBL1</text>
<text x="489.3" y="6.2" font-size="5.6" font-weight="normal" text-anchor="middle" fill="#000" transform="rotate(0.05 489.3 6.2)" stroke="#000" stroke-width="0.12">TMD8</text>
<line x1="408" y1="8.4" x2="454" y2="8.4" stroke="#d8d8d8" stroke-width="0.5"/>
<line x1="465.8" y1="8.4" x2="513" y2="8.4" stroke="#d8d8d8" stroke-width="0.5"/>
<text x="404.5" y="14.5" font-size="3.75" font-weight="bold" text-anchor="end" fill="#111" transform="rotate(0.05 404.5 14.5)" stroke="#111" stroke-width="0.22">INCB057643</text>
<text x="404.5" y="19.1" font-size="4.0" font-weight="bold" text-anchor="end" fill="#111" transform="rotate(0.05 404.5 19.1)" stroke="#111" stroke-width="0.22">Venetoclax</text>
<text x="410" y="14.45" font-size="3.4" font-weight="bold" text-anchor="middle" fill="#6a6a6a" transform="rotate(0.05 410 14.45)" stroke="#6a6a6a" stroke-width="0.18">-</text>
<text x="425" y="14.6" font-size="3.4" font-weight="bold" text-anchor="middle" fill="#222" transform="rotate(0.05 425 14.6)" stroke="#222" stroke-width="0.2">+</text>
<text x="438" y="14.45" font-size="3.4" font-weight="bold" text-anchor="middle" fill="#6a6a6a" transform="rotate(0.05 438 14.45)" stroke="#6a6a6a" stroke-width="0.18">-</text>
<text x="451.6" y="14.6" font-size="3.4" font-weight="bold" text-anchor="middle" fill="#222" transform="rotate(0.05 451.6 14.6)" stroke="#222" stroke-width="0.2">+</text>
<text x="469.5" y="14.45" font-size="3.4" font-weight="bold" text-anchor="middle" fill="#6a6a6a" transform="rotate(0.05 469.5 14.45)" stroke="#6a6a6a" stroke-width="0.18">-</text>
<text x="483.5" y="14.6" font-size="3.4" font-weight="bold" text-anchor="middle" fill="#222" transform="rotate(0.05 483.5 14.6)" stroke="#222" stroke-width="0.2">+</text>
<text x="495" y="14.45" font-size="3.4" font-weight="bold" text-anchor="middle" fill="#6a6a6a" transform="rotate(0.05 495 14.45)" stroke="#6a6a6a" stroke-width="0.18">-</text>
<text x="509" y="14.6" font-size="3.4" font-weight="bold" text-anchor="middle" fill="#222" transform="rotate(0.05 509 14.6)" stroke="#222" stroke-width="0.2">+</text>
<text x="410" y="19.85" font-size="3.4" font-weight="bold" text-anchor="middle" fill="#6a6a6a" transform="rotate(0.05 410 19.85)" stroke="#6a6a6a" stroke-width="0.18">-</text>
<text x="425" y="19.85" font-size="3.4" font-weight="bold" text-anchor="middle" fill="#6a6a6a" transform="rotate(0.05 425 19.85)" stroke="#6a6a6a" stroke-width="0.18">-</text>
<text x="438" y="20.0" font-size="3.4" font-weight="bold" text-anchor="middle" fill="#222" transform="rotate(0.05 438 20.0)" stroke="#222" stroke-width="0.2">+</text>
<text x="451.6" y="20.0" font-size="3.4" font-weight="bold" text-anchor="middle" fill="#222" transform="rotate(0.05 451.6 20.0)" stroke="#222" stroke-width="0.2">+</text>
<text x="469.5" y="19.85" font-size="3.4" font-weight="bold" text-anchor="middle" fill="#6a6a6a" transform="rotate(0.05 469.5 19.85)" stroke="#6a6a6a" stroke-width="0.18">-</text>
<text x="483.5" y="19.85" font-size="3.4" font-weight="bold" text-anchor="middle" fill="#6a6a6a" transform="rotate(0.05 483.5 19.85)" stroke="#6a6a6a" stroke-width="0.18">-</text>
<text x="495" y="20.0" font-size="3.4" font-weight="bold" text-anchor="middle" fill="#222" transform="rotate(0.05 495 20.0)" stroke="#222" stroke-width="0.2">+</text>
<text x="509" y="20.0" font-size="3.4" font-weight="bold" text-anchor="middle" fill="#222" transform="rotate(0.05 509 20.0)" stroke="#222" stroke-width="0.2">+</text>
<rect x="403.0" y="21.4" width="113.5" height="109.0" fill="#a6a6a6"/>
<rect x="403.0" y="21.4" width="113.5" height="11.399999999999999" fill="#cdcdcd" stroke="#909090" stroke-width="0.6"/>
<text x="399.4" y="28.5" font-size="4.1" font-weight="bold" text-anchor="end" fill="#111" transform="rotate(0.05 399.4 28.5)" stroke="#111" stroke-width="0.24">Myc</text>
<rect x="405.6" y="27.0" width="11.599999999999966" height="4.399999999999999" rx="2.1999999999999993" ry="2.1999999999999993" fill="#050505" filter="url(#b1)" opacity="1"/>
<ellipse cx="426" cy="28.8" rx="3" ry="0.9" fill="#8a8a8a" filter="url(#b1)" opacity="1"/>
<rect x="434.4" y="26.4" width="12.100000000000023" height="4.5" rx="2.25" ry="2.25" fill="#050505" filter="url(#b1)" opacity="1"/>
<ellipse cx="471" cy="26.2" rx="8.2" ry="4.3" fill="#050505" filter="url(#b1)" opacity="1"/>
<rect x="476" y="24.0" width="16" height="5.199999999999999" rx="2.5999999999999996" ry="2.5999999999999996" fill="#050505" filter="url(#b1)" opacity="1"/>
<rect x="490" y="22.9" width="13" height="5.300000000000001" rx="2.6500000000000004" ry="2.6500000000000004" fill="#050505" filter="url(#b1)" opacity="1"/>
<ellipse cx="512" cy="24" rx="0.9" ry="0.4" fill="#777" filter="url(#b1)" opacity="1"/>
<rect x="403.0" y="34.0" width="113.5" height="11.399999999999999" fill="#c6c6c6" stroke="#909090" stroke-width="0.6"/>
<text x="400.3" y="41.3" font-size="3.95" font-weight="bold" text-anchor="end" fill="#111" transform="rotate(0.05 400.3 41.3)" stroke="#111" stroke-width="0.24">Aurora-A</text>
<rect x="405.0" y="38.3" width="12.0" height="4.200000000000003" rx="2.1000000000000014" ry="2.1000000000000014" fill="#050505" filter="url(#b1)" opacity="1"/>
<rect x="434" y="38.6" width="10" height="3.799999999999997" rx="1.8999999999999986" ry="1.8999999999999986" fill="#050505" filter="url(#b1)" opacity="1"/>
<rect x="461" y="37.6" width="12.399999999999977" height="5.799999999999997" rx="2.8999999999999986" ry="2.8999999999999986" fill="#050505" filter="url(#b1)" opacity="1"/>
<ellipse cx="467" cy="43.5" rx="5" ry="1.2" fill="#333" filter="url(#b2)" opacity="1"/>
<rect x="476" y="37.6" width="10.600000000000023" height="4.199999999999996" rx="2.099999999999998" ry="2.099999999999998" fill="#050505" filter="url(#b1)" opacity="1" transform="rotate(-8 481.3 39.7)"/>
<rect x="488" y="36.6" width="12.5" height="4.799999999999997" rx="2.3999999999999986" ry="2.3999999999999986" fill="#050505" filter="url(#b1)" opacity="1" transform="rotate(-4 494.25 39.0)"/>
<rect x="502" y="35.6" width="11.799999999999955" height="4.199999999999996" rx="2.099999999999998" ry="2.099999999999998" fill="#050505" filter="url(#b1)" opacity="1" transform="rotate(-8 507.9 37.7)"/>
<rect x="403.0" y="46.4" width="113.5" height="11.399999999999999" fill="#dcdcdc" stroke="#909090" stroke-width="0.6"/>
<text x="401.4" y="53.8" font-size="4.2" font-weight="bold" text-anchor="end" fill="#111" transform="rotate(0.05 401.4 53.8)" stroke="#111" stroke-width="0.24">p-PLK1</text>
<ellipse cx="410.4" cy="51.3" rx="3.8" ry="0.95" fill="#4a4a4a" filter="url(#b1)" opacity="1"/>
<ellipse cx="464.5" cy="51.2" rx="4.2" ry="0.9" fill="#aaa" filter="url(#b1)" opacity="1"/>
<ellipse cx="478" cy="51.3" rx="3.0" ry="0.7" fill="#c4c4c4" filter="url(#b1)" opacity="1"/>
<ellipse cx="425" cy="52" rx="3.5" ry="0.6" fill="#cacaca" filter="url(#b1)" opacity="1"/>
<rect x="403.0" y="59.3" width="113.5" height="10.900000000000006" fill="#c2c2c2" stroke="#909090" stroke-width="0.6"/>
<text x="400.8" y="66.1" font-size="4.2" font-weight="bold" text-anchor="end" fill="#111" transform="rotate(0.05 400.8 66.1)" stroke="#111" stroke-width="0.24">PLK1</text>
<ellipse cx="416.9" cy="65.3" rx="12.4" ry="3.9" fill="#050505" filter="url(#b1)" opacity="1"/>
<ellipse cx="436.9" cy="65.1" rx="7.6" ry="3.0" fill="#050505" filter="url(#b1)" opacity="1"/>
<ellipse cx="451" cy="64.8" rx="7.2" ry="2.0" fill="#050505" filter="url(#b1)" opacity="1"/>
<rect x="424" y="63.4" width="10" height="3.8000000000000043" rx="1.9000000000000021" ry="1.9000000000000021" fill="#050505" filter="url(#b1)" opacity="1"/>
<rect x="440" y="63.6" width="8" height="2.3999999999999986" rx="1.1999999999999993" ry="1.1999999999999993" fill="#050505" filter="url(#b1)" opacity="1"/>
<rect x="460" y="63.0" width="15" height="3.0999999999999943" rx="1.5499999999999972" ry="1.5499999999999972" fill="#050505" filter="url(#b1)" opacity="1"/>
<ellipse cx="479.4" cy="63.8" rx="7.0" ry="2.9" fill="#050505" filter="url(#b1)" opacity="1"/>
<rect x="488" y="61.4" width="9" height="3.6000000000000014" rx="1.8000000000000007" ry="1.8000000000000007" fill="#050505" filter="url(#b1)" opacity="1" transform="rotate(-8 492.5 63.2)"/>
<rect x="500" y="60.2" width="12" height="3.799999999999997" rx="1.8999999999999986" ry="1.8999999999999986" fill="#050505" filter="url(#b1)" opacity="1" transform="rotate(-8 506.0 62.1)"/>
<rect x="403.0" y="71.3" width="113.5" height="11.5" fill="#d6d6d6" stroke="#909090" stroke-width="0.6"/>
<text x="401" y="78.1" font-size="4.3" font-weight="bold" text-anchor="end" fill="#111" transform="rotate(0.05 401 78.1)" stroke="#111" stroke-width="0.24">p-CDC2</text>
<ellipse cx="409.5" cy="75.7" rx="3.6" ry="2.0" fill="#4a4a4a" filter="url(#b1)" opacity="1"/>
<ellipse cx="422.8" cy="75.8" rx="5.0" ry="1.2" fill="#8a8a8a" filter="url(#b1)" opacity="1"/>
<ellipse cx="436.3" cy="75.9" rx="4.3" ry="2.1" fill="#444" filter="url(#b1)" opacity="1"/>
<ellipse cx="464.7" cy="76.3" rx="5.0" ry="2.9" fill="#444" filter="url(#b3)" opacity="1"/>
<ellipse cx="478.7" cy="76.5" rx="5.8" ry="2.8" fill="#585858" filter="url(#b3)" opacity="1"/>
<ellipse cx="492.5" cy="76.5" rx="4.6" ry="2.1" fill="#505050" filter="url(#b3)" opacity="1"/>
<ellipse cx="506.5" cy="76.2" rx="4.5" ry="1.1" fill="#8a8a8a" filter="url(#b1)" opacity="1"/>
<rect x="403.0" y="84.0" width="113.5" height="11.799999999999997" fill="#b2b2b2" stroke="#909090" stroke-width="0.6"/>
<text x="401" y="91.0" font-size="4.1" font-weight="bold" text-anchor="end" fill="#111" transform="rotate(0.05 401 91.0)" stroke="#111" stroke-width="0.24">CDC2</text>
<rect x="405.4" y="88.2" width="13.0" height="4.700000000000003" rx="2.3500000000000014" ry="2.3500000000000014" fill="#050505" filter="url(#b1)" opacity="1"/>
<rect x="418.4" y="88.4" width="13.200000000000045" height="4.699999999999989" rx="2.3499999999999943" ry="2.3499999999999943" fill="#050505" filter="url(#b1)" opacity="1"/>
<rect x="432.2" y="88.4" width="13.800000000000011" height="4.699999999999989" rx="2.3499999999999943" ry="2.3499999999999943" fill="#050505" filter="url(#b1)" opacity="1"/>
<rect x="446.4" y="88.2" width="16.600000000000023" height="5.099999999999994" rx="2.549999999999997" ry="2.549999999999997" fill="#050505" filter="url(#b1)" opacity="1"/>
<rect x="416" y="89.2" width="34" height="2.799999999999997" rx="1.3999999999999986" ry="1.3999999999999986" fill="#050505" filter="url(#b1)" opacity="1"/>
<path d="M460.00,88.40 L461.09,88.38 L462.59,88.35 L464.38,88.32 L466.30,88.28 L468.22,88.24 L470.00,88.20 L471.67,88.16 L473.33,88.11 L475.00,88.06 L476.67,88.01 L478.33,87.96 L480.00,87.90 L481.67,87.84 L483.33,87.79 L485.00,87.74 L486.67,87.67 L488.33,87.60 L490.00,87.50 L491.70,87.38 L493.44,87.23 L495.19,87.07 L496.89,86.90 L498.51,86.74 L500.00,86.60 L501.35,86.47 L502.59,86.34 L503.75,86.22 L504.85,86.10 L505.93,86.00 L507.00,85.90 L508.13,85.81 L509.30,85.73 L510.44,85.66 L511.48,85.59 L512.36,85.54 L513.00,85.50 L514.92,87.90 L513.00,90.30 L512.36,90.37 L511.48,90.46 L510.44,90.57 L509.30,90.69 L508.13,90.80 L507.00,90.90 L505.93,90.99 L504.85,91.07 L503.75,91.14 L502.59,91.22 L501.35,91.31 L500.00,91.40 L498.51,91.51 L496.89,91.62 L495.19,91.74 L493.44,91.87 L491.70,91.99 L490.00,92.10 L488.33,92.21 L486.67,92.31 L485.00,92.41 L483.33,92.51 L481.67,92.61 L480.00,92.70 L478.33,92.79 L476.67,92.89 L475.00,92.98 L473.33,93.06 L471.67,93.14 L470.00,93.20 L468.22,93.25 L466.30,93.30 L464.38,93.33 L462.59,93.36 L461.09,93.38 L460.00,93.40 L458.00,90.90Z" fill="#050505" filter="url(#b1)"/>
<rect x="403.0" y="96.8" width="113.5" height="10.400000000000006" fill="#b4b4b4" stroke="#909090" stroke-width="0.6"/>
<text x="399.8" y="102.6" font-size="3.75" font-weight="bold" text-anchor="end" fill="#111" transform="rotate(0.05 399.8 102.6)" stroke="#111" stroke-width="0.24">Cleaved-PARP</text>
<rect x="418" y="98.8" width="12.800000000000011" height="4.6000000000000085" rx="2.3000000000000043" ry="2.3000000000000043" fill="#050505" filter="url(#b1)" opacity="1"/>
<rect x="431.5" y="100.2" width="15.5" height="2.3999999999999915" rx="1.1999999999999957" ry="1.1999999999999957" fill="#050505" filter="url(#b1)" opacity="1"/>
<ellipse cx="452.6" cy="100.6" rx="8.7" ry="5.2" fill="#050505" filter="url(#b1)" opacity="1"/>
<rect x="488" y="100.0" width="11.5" height="2.0" rx="1.0" ry="1.0" fill="#050505" filter="url(#b1)" opacity="1"/>
<rect x="500.8" y="98.2" width="12.999999999999943" height="4.200000000000003" rx="2.1000000000000014" ry="2.1000000000000014" fill="#050505" filter="url(#b1)" opacity="1"/>
<rect x="403.0" y="108.2" width="113.5" height="11.799999999999997" fill="#cfcfcf" stroke="#909090" stroke-width="0.6"/>
<text x="399.8" y="115.7" font-size="4.15" font-weight="bold" text-anchor="end" fill="#111" transform="rotate(0.05 399.8 115.7)" stroke="#111" stroke-width="0.24">Caspase-3</text>
<path d="M407.00,111.00 L408.33,110.93 L410.11,110.83 L412.25,110.72 L414.67,110.61 L417.28,110.51 L420.00,110.45 L422.99,110.43 L426.33,110.43 L429.88,110.46 L433.44,110.49 L436.88,110.52 L440.00,110.55 L442.85,110.57 L445.56,110.60 L448.12,110.63 L450.56,110.65 L452.85,110.68 L455.00,110.70 L456.96,110.72 L458.70,110.74 L460.31,110.75 L461.85,110.77 L463.39,110.78 L465.00,110.80 L466.68,110.82 L468.37,110.84 L470.06,110.86 L471.74,110.87 L473.39,110.89 L475.00,110.90 L476.57,110.91 L478.11,110.91 L479.62,110.92 L481.11,110.92 L482.57,110.91 L484.00,110.90 L485.40,110.88 L486.78,110.85 L488.12,110.81 L489.44,110.77 L490.74,110.74 L492.00,110.70 L493.31,110.66 L494.67,110.63 L496.00,110.59 L497.22,110.55 L498.25,110.52 L499.00,110.50 L499.72,111.40 L499.00,112.30 L498.25,112.38 L497.22,112.49 L496.00,112.63 L494.67,112.77 L493.31,112.93 L492.00,113.10 L490.74,113.28 L489.44,113.47 L488.12,113.68 L486.78,113.89 L485.40,114.10 L484.00,114.30 L482.57,114.50 L481.11,114.71 L479.62,114.92 L478.11,115.12 L476.57,115.32 L475.00,115.50 L473.39,115.67 L471.74,115.84 L470.06,115.99 L468.37,116.14 L466.68,116.28 L465.00,116.40 L463.39,116.51 L461.85,116.60 L460.31,116.68 L458.70,116.76 L456.96,116.83 L455.00,116.90 L452.85,116.97 L450.56,117.04 L448.12,117.11 L445.56,117.17 L442.85,117.22 L440.00,117.25 L436.88,117.26 L433.44,117.27 L429.88,117.26 L426.33,117.23 L422.99,117.20 L420.00,117.15 L417.28,117.08 L414.67,116.98 L412.25,116.87 L410.11,116.76 L408.33,116.67 L407.00,116.60 L404.76,113.80Z" fill="#050505" filter="url(#b1)"/>
<rect x="502.5" y="109.6" width="10.5" height="2.1000000000000085" rx="1.0500000000000043" ry="1.0500000000000043" fill="#050505" filter="url(#b1)" opacity="1" transform="rotate(-3 507.75 110.65)"/>
<rect x="403.0" y="121.0" width="113.5" height="9.300000000000011" fill="#c4c4c4" stroke="#909090" stroke-width="0.6"/>
<text x="401.1" y="127.2" font-size="4.9" font-weight="bold" text-anchor="end" fill="#111" transform="rotate(0.05 401.1 127.2)" stroke="#111" stroke-width="0.24">β-Actin</text>
<path d="M406.50,122.50 L407.89,122.52 L409.76,122.54 L412.00,122.56 L414.52,122.60 L417.22,122.64 L420.00,122.70 L423.02,122.78 L426.37,122.88 L429.91,122.99 L433.46,123.10 L436.88,123.21 L440.00,123.30 L442.79,123.38 L445.37,123.47 L447.81,123.54 L450.19,123.61 L452.56,123.66 L455.00,123.70 L457.50,123.72 L460.00,123.71 L462.50,123.70 L465.00,123.67 L467.50,123.64 L470.00,123.60 L472.50,123.55 L475.00,123.49 L477.50,123.42 L480.00,123.35 L482.50,123.28 L485.00,123.20 L487.52,123.12 L490.07,123.03 L492.62,122.94 L495.15,122.86 L497.62,122.77 L500.00,122.70 L502.43,122.63 L504.96,122.57 L507.44,122.52 L509.70,122.47 L511.61,122.43 L513.00,122.40 L514.84,124.70 L513.00,127.00 L511.61,127.05 L509.70,127.13 L507.44,127.22 L504.96,127.31 L502.43,127.41 L500.00,127.50 L497.62,127.58 L495.15,127.67 L492.62,127.76 L490.07,127.84 L487.52,127.92 L485.00,128.00 L482.50,128.08 L480.00,128.16 L477.50,128.24 L475.00,128.31 L472.50,128.36 L470.00,128.40 L467.50,128.42 L465.00,128.42 L462.50,128.41 L460.00,128.39 L457.50,128.35 L455.00,128.30 L452.56,128.23 L450.19,128.14 L447.81,128.04 L445.37,127.93 L442.79,127.82 L440.00,127.70 L436.88,127.58 L433.46,127.44 L429.91,127.30 L426.37,127.16 L423.02,127.02 L420.00,126.90 L417.22,126.78 L414.52,126.66 L412.00,126.55 L409.76,126.45 L407.89,126.36 L406.50,126.30 L404.98,124.40Z" fill="#050505" filter="url(#b1)"/>
<text x="435.6" y="140.1" font-size="6.2" font-weight="normal" text-anchor="middle" fill="#111" transform="rotate(0.05 435.6 140.1)" stroke="#111" stroke-width="0.12">GR</text>
<text x="490.5" y="140.1" font-size="6.2" font-weight="normal" text-anchor="middle" fill="#111" transform="rotate(0.05 490.5 140.1)" stroke="#111" stroke-width="0.12">MZ</text>
<line x1="411.8" y1="144" x2="460.2" y2="144" stroke="#b4b4b4" stroke-width="0.7"/>
<line x1="466.2" y1="144" x2="514.6" y2="144" stroke="#b4b4b4" stroke-width="0.7"/>
<text x="407.2" y="152.8" font-size="4.15" font-weight="bold" text-anchor="end" fill="#111" transform="rotate(0.05 407.2 152.8)" stroke="#111" stroke-width="0.22">INCB057643</text>
<text x="405.6" y="159.5" font-size="4.2" font-weight="bold" text-anchor="end" fill="#111" transform="rotate(0.05 405.6 159.5)" stroke="#111" stroke-width="0.22">Venetoclax</text>
<text x="416.8" y="151.8" font-size="4.2" font-weight="bold" text-anchor="middle" fill="#6a6a6a" transform="rotate(0.05 416.8 151.8)" stroke="#6a6a6a" stroke-width="0.18">-</text>
<text x="432.6" y="151.95000000000002" font-size="4.2" font-weight="bold" text-anchor="middle" fill="#222" transform="rotate(0.05 432.6 151.95000000000002)" stroke="#222" stroke-width="0.2">+</text>
<text x="446.2" y="151.8" font-size="4.2" font-weight="bold" text-anchor="middle" fill="#6a6a6a" transform="rotate(0.05 446.2 151.8)" stroke="#6a6a6a" stroke-width="0.18">-</text>
<text x="458.8" y="151.95000000000002" font-size="4.2" font-weight="bold" text-anchor="middle" fill="#222" transform="rotate(0.05 458.8 151.95000000000002)" stroke="#222" stroke-width="0.2">+</text>
<text x="469.8" y="151.8" font-size="4.2" font-weight="bold" text-anchor="middle" fill="#6a6a6a" transform="rotate(0.05 469.8 151.8)" stroke="#6a6a6a" stroke-width="0.18">-</text>
<text x="482.3" y="151.95000000000002" font-size="4.2" font-weight="bold" text-anchor="middle" fill="#222" transform="rotate(0.05 482.3 151.95000000000002)" stroke="#222" stroke-width="0.2">+</text>
<text x="494.7" y="151.8" font-size="4.2" font-weight="bold" text-anchor="middle" fill="#6a6a6a" transform="rotate(0.05 494.7 151.8)" stroke="#6a6a6a" stroke-width="0.18">-</text>
<text x="507.4" y="151.95000000000002" font-size="4.2" font-weight="bold" text-anchor="middle" fill="#222" transform="rotate(0.05 507.4 151.95000000000002)" stroke="#222" stroke-width="0.2">+</text>
<text x="416.8" y="158.9" font-size="4.2" font-weight="bold" text-anchor="middle" fill="#6a6a6a" transform="rotate(0.05 416.8 158.9)" stroke="#6a6a6a" stroke-width="0.18">-</text>
<text x="432.6" y="158.9" font-size="4.2" font-weight="bold" text-anchor="middle" fill="#6a6a6a" transform="rotate(0.05 432.6 158.9)" stroke="#6a6a6a" stroke-width="0.18">-</text>
<text x="446.2" y="159.05" font-size="4.2" font-weight="bold" text-anchor="middle" fill="#222" transform="rotate(0.05 446.2 159.05)" stroke="#222" stroke-width="0.2">+</text>
<text x="458.8" y="159.05" font-size="4.2" font-weight="bold" text-anchor="middle" fill="#222" transform="rotate(0.05 458.8 159.05)" stroke="#222" stroke-width="0.2">+</text>
<text x="469.8" y="158.9" font-size="4.2" font-weight="bold" text-anchor="middle" fill="#6a6a6a" transform="rotate(0.05 469.8 158.9)" stroke="#6a6a6a" stroke-width="0.18">-</text>
<text x="482.3" y="158.9" font-size="4.2" font-weight="bold" text-anchor="middle" fill="#6a6a6a" transform="rotate(0.05 482.3 158.9)" stroke="#6a6a6a" stroke-width="0.18">-</text>
<text x="494.7" y="159.05" font-size="4.2" font-weight="bold" text-anchor="middle" fill="#222" transform="rotate(0.05 494.7 159.05)" stroke="#222" stroke-width="0.2">+</text>
<text x="507.4" y="159.05" font-size="4.2" font-weight="bold" text-anchor="middle" fill="#222" transform="rotate(0.05 507.4 159.05)" stroke="#222" stroke-width="0.2">+</text>
<rect x="410.3" y="161.9" width="106.59999999999997" height="100.5" fill="#a6a6a6"/>
<rect x="410.3" y="161.9" width="106.59999999999997" height="13.299999999999983" fill="#cfcfcf" stroke="#909090" stroke-width="0.6"/>
<text x="404.0" y="170.0" font-size="4.1" font-weight="bold" text-anchor="end" fill="#111" transform="rotate(0.05 404.0 170.0)" stroke="#111" stroke-width="0.24">Myc</text>
<rect x="412.4" y="165.0" width="15.200000000000045" height="8.199999999999989" rx="4.099999999999994" ry="4.099999999999994" fill="#050505" filter="url(#b1)" opacity="1"/>
<rect x="425" y="167.5" width="13" height="3.9000000000000057" rx="1.9500000000000028" ry="1.9500000000000028" fill="#050505" filter="url(#b1)" opacity="1"/>
<rect x="437.2" y="165.0" width="13.400000000000034" height="8.199999999999989" rx="4.099999999999994" ry="4.099999999999994" fill="#050505" filter="url(#b1)" opacity="1"/>
<rect x="449" y="168.0" width="11.600000000000023" height="3.0" rx="1.5" ry="1.5" fill="#050505" filter="url(#b1)" opacity="1"/>
<rect x="465" y="168.4" width="7" height="2.0" rx="1.0" ry="1.0" fill="#222" filter="url(#b1)" opacity="1" transform="rotate(-8 468.5 169.4)"/>
<ellipse cx="493" cy="168.6" rx="1.5" ry="0.8" fill="#999" filter="url(#b1)" opacity="1"/>
<ellipse cx="509.5" cy="168.2" rx="1.0" ry="0.6" fill="#aaa" filter="url(#b1)" opacity="1"/>
<rect x="410.3" y="176.7" width="106.59999999999997" height="14.900000000000006" fill="#c8c8c8" stroke="#909090" stroke-width="0.6"/>
<text x="404.2" y="185.6" font-size="3.95" font-weight="bold" text-anchor="end" fill="#111" transform="rotate(0.05 404.2 185.6)" stroke="#111" stroke-width="0.24">Aurora-A</text>
<ellipse cx="418.8" cy="184.6" rx="6.8" ry="3.5" fill="#424242" filter="url(#b1)" opacity="1"/>
<rect x="426" y="182.9" width="12.5" height="2.299999999999983" rx="1.1499999999999915" ry="1.1499999999999915" fill="#3a3a3a" filter="url(#b1)" opacity="1"/>
<ellipse cx="444.2" cy="185.0" rx="5.8" ry="2.8" fill="#424242" filter="url(#b1)" opacity="1"/>
<rect x="451" y="183.6" width="10.5" height="2.0" rx="1.0" ry="1.0" fill="#3a3a3a" filter="url(#b1)" opacity="1"/>
<ellipse cx="470.3" cy="185.7" rx="7.2" ry="4.4" fill="#3a3a3a" filter="url(#b1)" opacity="1"/>
<ellipse cx="485" cy="184.4" rx="7.6" ry="3.8" fill="#3e3e3e" filter="url(#b1)" opacity="1"/>
<ellipse cx="497" cy="184.4" rx="6.6" ry="5.0" fill="#3e3e3e" filter="url(#b1)" opacity="1"/>
<ellipse cx="509.2" cy="182.9" rx="6.6" ry="4.1" fill="#3a3a3a" filter="url(#b1)" opacity="1"/>
<rect x="410.3" y="192.8" width="106.59999999999997" height="13.399999999999977" fill="#d8d8d8" stroke="#909090" stroke-width="0.6"/>
<text x="404.0" y="201.4" font-size="3.8" font-weight="bold" text-anchor="end" fill="#111" transform="rotate(0.05 404.0 201.4)" stroke="#111" stroke-width="0.24">p21</text>
<ellipse cx="429" cy="199.9" rx="2.0" ry="1.1" fill="#050505" filter="url(#b1)" opacity="1"/>
<ellipse cx="437.6" cy="200.4" rx="2.1" ry="1.2" fill="#050505" filter="url(#b1)" opacity="1"/>
<ellipse cx="453.3" cy="201" rx="2.0" ry="0.9" fill="#222" filter="url(#b1)" opacity="1"/>
<ellipse cx="461.6" cy="201" rx="1.7" ry="0.8" fill="#222" filter="url(#b1)" opacity="1"/>
<rect x="475" y="198.6" width="13" height="3.200000000000017" rx="1.6000000000000085" ry="1.6000000000000085" fill="#050505" filter="url(#b1)" opacity="1"/>
<rect x="500" y="197.2" width="14" height="3.200000000000017" rx="1.6000000000000085" ry="1.6000000000000085" fill="#050505" filter="url(#b1)" opacity="1" transform="rotate(-3 507.0 198.8)"/>
<rect x="410.3" y="207.6" width="106.59999999999997" height="14.0" fill="#c8c8c8" stroke="#909090" stroke-width="0.6"/>
<text x="404.6" y="216.8" font-size="3.85" font-weight="bold" text-anchor="end" fill="#111" transform="rotate(0.05 404.6 216.8)" stroke="#111" stroke-width="0.24">p53</text>
<path d="M414.00,211.90 L415.15,211.87 L416.70,211.82 L418.56,211.76 L420.63,211.71 L422.81,211.69 L425.00,211.70 L427.27,211.76 L429.70,211.85 L432.25,211.97 L434.85,212.09 L437.45,212.23 L440.00,212.35 L442.56,212.47 L445.19,212.61 L447.81,212.74 L450.37,212.88 L452.79,213.00 L455.00,213.10 L456.90,213.19 L458.52,213.28 L460.00,213.36 L461.48,213.41 L463.10,213.45 L465.00,213.45 L467.25,213.42 L469.74,213.36 L472.38,213.28 L475.04,213.17 L477.62,213.05 L480.00,212.90 L482.19,212.73 L484.26,212.53 L486.25,212.30 L488.19,212.07 L490.09,211.83 L492.00,211.60 L493.90,211.37 L495.76,211.12 L497.59,210.87 L499.41,210.63 L501.21,210.41 L503.00,210.20 L504.90,210.01 L506.93,209.83 L508.94,209.66 L510.80,209.51 L512.36,209.39 L513.50,209.30 L515.18,211.40 L513.50,213.50 L512.36,213.69 L510.80,213.94 L508.94,214.25 L506.93,214.58 L504.90,214.90 L503.00,215.20 L501.21,215.47 L499.41,215.74 L497.59,216.01 L495.76,216.28 L493.90,216.54 L492.00,216.80 L490.09,217.07 L488.19,217.34 L486.25,217.61 L484.26,217.87 L482.19,218.10 L480.00,218.30 L477.62,218.47 L475.04,218.61 L472.38,218.73 L469.74,218.83 L467.25,218.90 L465.00,218.95 L463.10,218.97 L461.48,218.95 L460.00,218.91 L458.52,218.85 L456.90,218.78 L455.00,218.70 L452.79,218.62 L450.37,218.52 L447.81,218.41 L445.19,218.29 L442.56,218.17 L440.00,218.05 L437.45,217.93 L434.85,217.81 L432.25,217.68 L429.70,217.56 L427.27,217.43 L425.00,217.30 L422.81,217.16 L420.63,217.01 L418.56,216.85 L416.70,216.71 L415.15,216.59 L414.00,216.50 L412.16,214.20Z" fill="#050505" filter="url(#b1)"/>
<rect x="410.3" y="222.8" width="106.59999999999997" height="14.399999999999977" fill="#bebebe" stroke="#909090" stroke-width="0.6"/>
<text x="405.8" y="232.9" font-size="4.1" font-weight="bold" text-anchor="end" fill="#111" transform="rotate(0.05 405.8 232.9)" stroke="#111" stroke-width="0.24">Cleaved-PARP</text>
<ellipse cx="431.3" cy="231.4" rx="4.6" ry="0.9" fill="#5a5a5a" filter="url(#b1)" opacity="1"/>
<rect x="438" y="228.6" width="11.600000000000023" height="6.0" rx="3.0" ry="3.0" fill="#050505" filter="url(#b1)" opacity="1"/>
<rect x="450.4" y="228.6" width="12.200000000000045" height="6.0" rx="3.0" ry="3.0" fill="#050505" filter="url(#b1)" opacity="1"/>
<rect x="477" y="228.8" width="10" height="2.5999999999999943" rx="1.2999999999999972" ry="1.2999999999999972" fill="#050505" filter="url(#b1)" opacity="1" transform="rotate(-5 482.0 230.10000000000002)"/>
<ellipse cx="495" cy="229.6" rx="3.6" ry="0.8" fill="#aaa" filter="url(#b1)" opacity="1"/>
<rect x="502.6" y="227.8" width="11.399999999999977" height="3.5999999999999943" rx="1.7999999999999972" ry="1.7999999999999972" fill="#050505" filter="url(#b1)" opacity="1"/>
<rect x="410.3" y="238.5" width="106.59999999999997" height="11.699999999999989" fill="#c8c8c8" stroke="#909090" stroke-width="0.6"/>
<text x="404.6" y="246.6" font-size="4.15" font-weight="bold" text-anchor="end" fill="#111" transform="rotate(0.05 404.6 246.6)" stroke="#111" stroke-width="0.24">Caspase-3</text>
<rect x="412.4" y="240.9" width="9.400000000000034" height="2.1999999999999886" rx="1.0999999999999943" ry="1.0999999999999943" fill="#1a1a1a" filter="url(#b1)" opacity="1" transform="rotate(3 417.1 242.0)"/>
<rect x="425.4" y="241.9" width="9.5" height="2.299999999999983" rx="1.1499999999999915" ry="1.1499999999999915" fill="#1a1a1a" filter="url(#b1)" opacity="1" transform="rotate(3 430.15 243.05)"/>
<rect x="439.5" y="242.7" width="7.800000000000011" height="2.0" rx="1.0" ry="1.0" fill="#2c2c2c" filter="url(#b1)" opacity="1" transform="rotate(4 443.4 243.7)"/>
<rect x="451.2" y="243.3" width="9.800000000000011" height="2.3999999999999773" rx="1.1999999999999886" ry="1.1999999999999886" fill="#1a1a1a" filter="url(#b1)" opacity="1" transform="rotate(4 456.1 244.5)"/>
<rect x="465" y="242.7" width="11" height="3.9000000000000057" rx="1.9500000000000028" ry="1.9500000000000028" fill="#050505" filter="url(#b1)" opacity="1"/>
<rect x="478" y="242.7" width="11" height="3.9000000000000057" rx="1.9500000000000028" ry="1.9500000000000028" fill="#050505" filter="url(#b1)" opacity="1"/>
<rect x="491" y="242.4" width="11" height="4.0" rx="2.0" ry="2.0" fill="#050505" filter="url(#b1)" opacity="1"/>
<rect x="504" y="241.6" width="10.799999999999955" height="4.200000000000017" rx="2.1000000000000085" ry="2.1000000000000085" fill="#050505" filter="url(#b1)" opacity="1"/>
<rect x="410.3" y="251.4" width="106.59999999999997" height="10.999999999999972" fill="#bebebe" stroke="#909090" stroke-width="0.6"/>
<text x="404.2" y="258.4" font-size="4.5" font-weight="bold" text-anchor="end" fill="#111" transform="rotate(0.05 404.2 258.4)" stroke="#111" stroke-width="0.24">β-Actin</text>
<ellipse cx="420" cy="257.0" rx="7.6" ry="3.9" fill="#050505" filter="url(#b1)" opacity="1"/>
<ellipse cx="433.4" cy="257.4" rx="6.8" ry="3.7" fill="#050505" filter="url(#b1)" opacity="1"/>
<ellipse cx="445.6" cy="257.6" rx="7.0" ry="3.7" fill="#050505" filter="url(#b1)" opacity="1"/>
<ellipse cx="458.2" cy="257.4" rx="7.0" ry="3.9" fill="#050505" filter="url(#b1)" opacity="1"/>
<rect x="414" y="254.8" width="50" height="5.199999999999989" rx="2.5999999999999943" ry="2.5999999999999943" fill="#050505" filter="url(#b1)" opacity="1"/>
<rect x="462" y="255.6" width="15" height="3.799999999999983" rx="1.8999999999999915" ry="1.8999999999999915" fill="#050505" filter="url(#b1)" opacity="1"/>
<ellipse cx="471.6" cy="257.5" rx="4.8" ry="2.2" fill="#050505" filter="url(#b1)" opacity="1"/>
<ellipse cx="484.4" cy="257.3" rx="4.9" ry="2.4" fill="#050505" filter="url(#b1)" opacity="1"/>
<ellipse cx="496.8" cy="257.1" rx="5.0" ry="2.5" fill="#050505" filter="url(#b1)" opacity="1"/>
<ellipse cx="508.8" cy="256.8" rx="6.2" ry="3.5" fill="#050505" filter="url(#b1)" opacity="1"/>
<rect x="476" y="256.6" width="28" height="1.7999999999999545" rx="0.8999999999999773" ry="0.8999999999999773" fill="#050505" filter="url(#b1)" opacity="1"/>
<rect x="403.0" y="21.4" width="113.5" height="108.9" fill="none" stroke="#5a5a5a" stroke-width="0.55"/>
<rect x="410.3" y="161.9" width="106.59999999999997" height="100.49999999999997" fill="none" stroke="#5a5a5a" stroke-width="0.55"/>
</svg></body></html>
